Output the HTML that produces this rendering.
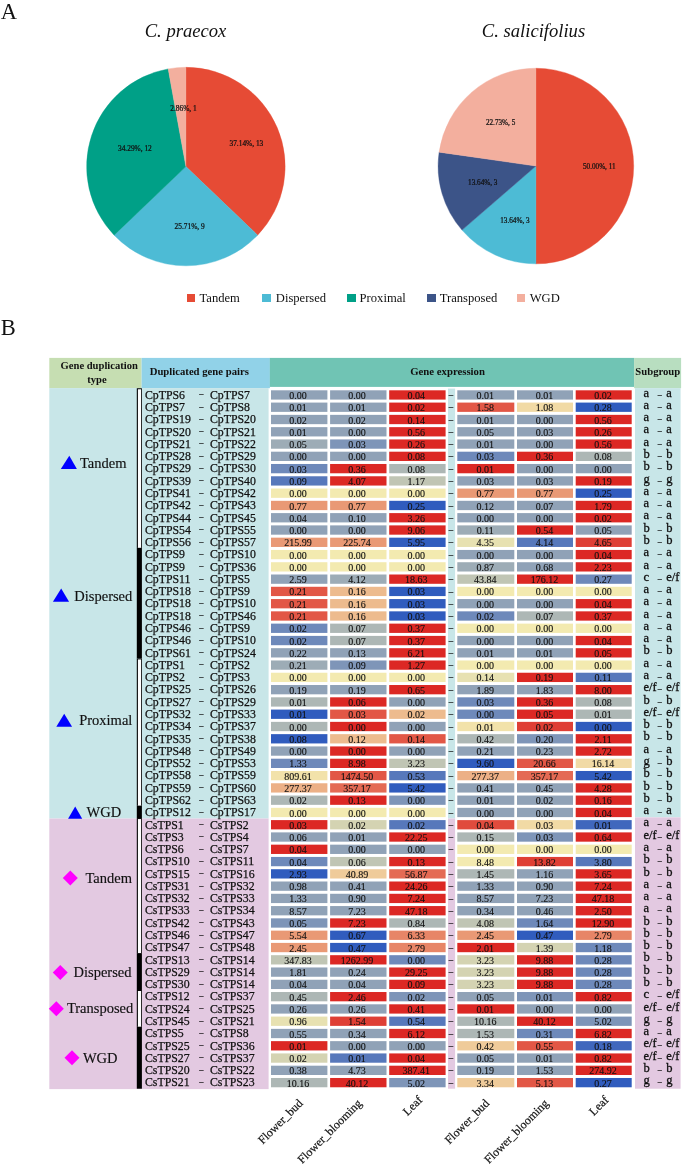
<!DOCTYPE html>
<html><head><meta charset="utf-8"><title>Gene duplication</title>
<style>
html,body{margin:0;padding:0;background:#fff;}
body{width:685px;height:1167px;position:relative;overflow:hidden;font-family:"Liberation Serif",serif;color:#111;}
.abs{position:absolute;}
.t{position:absolute;white-space:nowrap;line-height:1;}
.c{position:absolute;height:9.4px;font-size:10px;line-height:10px;text-align:center;color:#111;}
.g{position:absolute;font-size:11.8px;line-height:12px;white-space:nowrap;color:#111;}
.lab{position:absolute;font-size:14.3px;line-height:16px;white-space:nowrap;color:#111;}
.hd{position:absolute;font-weight:bold;font-size:10.6px;line-height:12px;white-space:nowrap;color:#111;}
.ax{position:absolute;font-size:12.7px;line-height:14px;white-space:nowrap;transform-origin:100% 50%;transform:rotate(-45deg);text-align:right;}
.pl{font-size:7.4px;font-family:"Liberation Serif",serif;fill:#111;stroke:#111;stroke-width:0.22px;text-anchor:middle;dominant-baseline:central;}
</style></head><body>

<div class="t" style="left:0.7px;top:1.2px;font-size:22.5px;line-height:22px;">A</div>
<div class="t" style="left:0.7px;top:316.5px;font-size:22.5px;line-height:22px;">B</div>
<div class="t" style="left:85px;width:201px;top:21px;text-align:center;font-style:italic;font-size:18.6px;line-height:20px;">C. praecox</div>
<div class="t" style="left:433px;width:201px;top:21px;text-align:center;font-style:italic;font-size:18.6px;line-height:20px;">C. salicifolius</div>
<svg class="abs" style="left:0;top:0" width="685" height="320" viewBox="0 0 685 320">
<path d="M185.9,166.55 L185.90,67.30 A99.25,99.25 0 0 1 257.64,235.14 Z" fill="#E64B35" stroke="#E64B35" stroke-width="0.4"/>
<path d="M185.9,166.55 L257.64,235.14 A99.25,99.25 0 0 1 114.16,235.14 Z" fill="#4DBBD5" stroke="#4DBBD5" stroke-width="0.4"/>
<path d="M185.9,166.55 L114.16,235.14 A99.25,99.25 0 0 1 168.18,68.89 Z" fill="#00A087" stroke="#00A087" stroke-width="0.4"/>
<path d="M185.9,166.55 L168.18,68.89 A99.25,99.25 0 0 1 185.90,67.30 Z" fill="#F3AF9E" stroke="#F3AF9E" stroke-width="0.4"/>
<path d="M535.9,166.05 L535.90,68.25 A97.8,97.8 0 0 1 535.90,263.85 Z" fill="#E64B35" stroke="#E64B35" stroke-width="0.4"/>
<path d="M535.9,166.05 L535.90,263.85 A97.8,97.8 0 0 1 461.99,230.10 Z" fill="#4DBBD5" stroke="#4DBBD5" stroke-width="0.4"/>
<path d="M535.9,166.05 L461.99,230.10 A97.8,97.8 0 0 1 439.10,152.13 Z" fill="#3C5488" stroke="#3C5488" stroke-width="0.4"/>
<path d="M535.9,166.05 L439.10,152.13 A97.8,97.8 0 0 1 535.90,68.25 Z" fill="#F3AF9E" stroke="#F3AF9E" stroke-width="0.4"/>
<text class="pl" x="246.4" y="143.6" style="font-size:7.38px">37.14%, 13</text>
<text class="pl" x="189.6" y="226.4" style="font-size:7.38px">25.71%, 9</text>
<text class="pl" x="134.9" y="148.4" style="font-size:7.38px">34.29%, 12</text>
<text class="pl" x="183.5" y="108.1" style="font-size:7.38px">2.86%, 1</text>
<text class="pl" x="599.3" y="167.3" style="font-size:7.2px">50.00%, 11</text>
<text class="pl" x="514.9" y="220.6" style="font-size:7.2px">13.64%, 3</text>
<text class="pl" x="482.8" y="183.4" style="font-size:7.2px">13.64%, 3</text>
<text class="pl" x="500.6" y="122.5" style="font-size:7.2px">22.73%, 5</text>
</svg>
<div class="abs" style="left:186.8px;top:293.6px;width:8.4px;height:8.2px;background:#E64B35"></div>
<div class="t" style="left:199.5px;top:290.5px;font-size:12.6px;line-height:14px;">Tandem</div>
<div class="abs" style="left:262.3px;top:293.6px;width:8.4px;height:8.2px;background:#4DBBD5"></div>
<div class="t" style="left:275.8px;top:290.5px;font-size:12.6px;line-height:14px;">Dispersed</div>
<div class="abs" style="left:347.3px;top:293.6px;width:8.4px;height:8.2px;background:#00A087"></div>
<div class="t" style="left:359.6px;top:290.5px;font-size:12.6px;line-height:14px;">Proximal</div>
<div class="abs" style="left:427.3px;top:293.6px;width:8.4px;height:8.2px;background:#3C5488"></div>
<div class="t" style="left:439.7px;top:290.5px;font-size:12.6px;line-height:14px;">Transposed</div>
<div class="abs" style="left:517px;top:293.6px;width:8.4px;height:8.2px;background:#F3AF9E"></div>
<div class="t" style="left:529.7px;top:290.5px;font-size:12.6px;line-height:14px;">WGD</div>
<svg class="abs" style="left:0;top:0" width="685" height="1167" viewBox="0 0 685 1167" font-family="Liberation Serif, serif">
<rect x="49.30" y="357.90" width="92.30" height="30.30" fill="#C6DEB2" />
<rect x="141.60" y="357.90" width="128.30" height="30.30" fill="#91D2E8" />
<rect x="269.80" y="357.90" width="364.40" height="29.00" fill="#70C4B4" />
<rect x="634.10" y="357.90" width="47.00" height="30.30" fill="#B8DEC0" />
<rect x="49.30" y="388.10" width="219.30" height="430.46" fill="#C8E6E8" />
<rect x="49.30" y="818.56" width="219.30" height="270.56" fill="#E3C9E1" />
<rect x="448.00" y="388.60" width="7.10" height="429.96" fill="#C8E6E8" />
<rect x="448.00" y="818.56" width="7.10" height="270.16" fill="#E3C9E1" />
<rect x="635.00" y="388.10" width="45.60" height="429.26" fill="#C8E6E8" />
<rect x="635.00" y="817.36" width="45.60" height="271.36" fill="#E3C9E1" />
<text x="99.25" y="368.5" font-size="10.6" text-anchor="middle" font-weight="bold" fill="#111">Gene duplication</text>
<text x="96.9" y="382.9" font-size="10.6" text-anchor="middle" font-weight="bold" fill="#111">type</text>
<text x="149.7" y="375.0" font-size="10.7" font-weight="bold" fill="#111">Duplicated gene pairs</text>
<text x="410.2" y="375.2" font-size="10.75" font-weight="bold" fill="#111">Gene expression</text>
<text x="635.3" y="375.2" font-size="10.7" font-weight="bold" fill="#111">Subgroup</text>
<rect x="136.80" y="388.26" width="5.10" height="159.64" fill="#000" />
<rect x="137.90" y="389.26" width="3.20" height="158.64" fill="#fff" />
<rect x="136.80" y="547.90" width="5.10" height="110.52" fill="#000" />
<rect x="136.80" y="658.42" width="5.10" height="147.36" fill="#000" />
<rect x="137.90" y="659.42" width="3.20" height="146.36" fill="#fff" />
<rect x="136.80" y="805.78" width="5.10" height="12.28" fill="#000" />
<rect x="136.80" y="818.06" width="5.10" height="135.08" fill="#000" />
<rect x="137.90" y="819.06" width="3.20" height="134.08" fill="#fff" />
<rect x="136.80" y="953.14" width="5.10" height="36.84" fill="#000" />
<rect x="136.80" y="989.98" width="5.10" height="36.84" fill="#000" />
<rect x="137.90" y="990.98" width="3.20" height="35.84" fill="#fff" />
<rect x="136.80" y="1026.82" width="5.10" height="61.90" fill="#000" />
<polygon points="69.3,455.8 76.9,468.9 60.8,468.9" fill="#0000FF"/>
<text x="80" y="467.6" font-size="14.5" fill="#111" stroke="#111" stroke-width="0.15">Tandem</text>
<polygon points="61.2,588.5 69.05,601.65 52.9,601.65" fill="#0000FF"/>
<text x="74.3" y="601" font-size="14.5" fill="#111" stroke="#111" stroke-width="0.15">Dispersed</text>
<polygon points="64.2,713.8 72.1,726.7 56.3,726.7" fill="#0000FF"/>
<text x="79.2" y="724.7" font-size="14.5" fill="#111" stroke="#111" stroke-width="0.15">Proximal</text>
<polygon points="75.2,806.6 82.2,818.65 68.1,818.65" fill="#0000FF"/>
<text x="86.5" y="817.1" font-size="14.5" fill="#111" stroke="#111" stroke-width="0.15">WGD</text>
<polygon points="70.3,870.4 77.8,877.9 70.3,885.4 62.8,877.9" fill="#FF00FF"/>
<text x="85.5" y="882.6" font-size="14.5" fill="#111" stroke="#111" stroke-width="0.15">Tandem</text>
<polygon points="60.25,964.9 67.75,972.4 60.25,979.9 52.75,972.4" fill="#FF00FF"/>
<text x="73.5" y="976.6" font-size="14.5" fill="#111" stroke="#111" stroke-width="0.15">Dispersed</text>
<polygon points="56.3,1001.15 63.8,1008.65 56.3,1016.15 48.8,1008.65" fill="#FF00FF"/>
<text x="66.9" y="1013.4" font-size="14.5" fill="#111" stroke="#111" stroke-width="0.15">Transposed</text>
<polygon points="72,1050.15 79.5,1057.65 72,1065.15 64.5,1057.65" fill="#FF00FF"/>
<text x="82.9" y="1062.7" font-size="14.5" fill="#111" stroke="#111" stroke-width="0.15">WGD</text>
<text x="145" y="398.70" font-size="11.8" fill="#111" stroke="#111" stroke-width="0.25">CpTPS6</text>
<text x="199.2" y="396.30" font-size="8.4" fill="#111" stroke="#111" stroke-width="0.3">–</text>
<text x="210" y="398.70" font-size="11.8" fill="#111" stroke="#111" stroke-width="0.25">CpTPS7</text>
<rect x="271.00" y="390.30" width="56.40" height="9.30" fill="#90a2b7" />
<text x="298.00" y="399.00" font-size="10" fill="#111" text-anchor="middle" stroke="#111" stroke-width="0.12">0.00</text>
<rect x="330.10" y="390.30" width="56.40" height="9.30" fill="#90a2b7" />
<text x="357.10" y="399.00" font-size="10" fill="#111" text-anchor="middle" stroke="#111" stroke-width="0.12">0.00</text>
<rect x="389.20" y="390.30" width="56.40" height="9.30" fill="#dc2824" />
<text x="416.20" y="399.00" font-size="10" fill="#111" text-anchor="middle" stroke="#111" stroke-width="0.12">0.04</text>
<rect x="457.30" y="390.30" width="57.00" height="9.30" fill="#90a2b7" />
<text x="485.20" y="399.00" font-size="10" fill="#111" text-anchor="middle" stroke="#111" stroke-width="0.12">0.01</text>
<rect x="517.00" y="390.30" width="56.00" height="9.30" fill="#90a2b7" />
<text x="544.40" y="399.00" font-size="10" fill="#111" text-anchor="middle" stroke="#111" stroke-width="0.12">0.01</text>
<rect x="575.70" y="390.30" width="56.00" height="9.30" fill="#dc2824" />
<text x="603.10" y="399.00" font-size="10" fill="#111" text-anchor="middle" stroke="#111" stroke-width="0.12">0.02</text>
<text x="448.8" y="397.05" font-size="8.8" fill="#111" stroke="#111" stroke-width="0.3">–</text>
<text x="643.5" y="396.60" font-size="12.5" fill="#111" stroke="#111" stroke-width="0.3">a</text>
<text x="657.8" y="396.60" font-size="8" fill="#111" stroke="#111" stroke-width="0.3">–</text>
<text x="666.2" y="396.60" font-size="12.5" fill="#111" stroke="#111" stroke-width="0.3">a</text>
<text x="145" y="410.98" font-size="11.8" fill="#111" stroke="#111" stroke-width="0.25">CpTPS7</text>
<text x="199.2" y="408.58" font-size="8.4" fill="#111" stroke="#111" stroke-width="0.3">–</text>
<text x="210" y="410.98" font-size="11.8" fill="#111" stroke="#111" stroke-width="0.25">CpTPS8</text>
<rect x="271.00" y="402.58" width="56.40" height="9.30" fill="#90a2b7" />
<text x="298.00" y="411.28" font-size="10" fill="#111" text-anchor="middle" stroke="#111" stroke-width="0.12">0.01</text>
<rect x="330.10" y="402.58" width="56.40" height="9.30" fill="#90a2b7" />
<text x="357.10" y="411.28" font-size="10" fill="#111" text-anchor="middle" stroke="#111" stroke-width="0.12">0.01</text>
<rect x="389.20" y="402.58" width="56.40" height="9.30" fill="#dc2824" />
<text x="416.20" y="411.28" font-size="10" fill="#111" text-anchor="middle" stroke="#111" stroke-width="0.12">0.02</text>
<rect x="457.30" y="402.58" width="57.00" height="9.30" fill="#e25746" />
<text x="485.20" y="411.28" font-size="10" fill="#111" text-anchor="middle" stroke="#111" stroke-width="0.12">1.58</text>
<rect x="517.00" y="402.58" width="56.00" height="9.30" fill="#f1daa5" />
<text x="544.40" y="411.28" font-size="10" fill="#111" text-anchor="middle" stroke="#111" stroke-width="0.12">1.08</text>
<rect x="575.70" y="402.58" width="56.00" height="9.30" fill="#305cbe" />
<text x="603.10" y="411.28" font-size="10" fill="#111" text-anchor="middle" stroke="#111" stroke-width="0.12">0.28</text>
<text x="448.8" y="409.33" font-size="8.8" fill="#111" stroke="#111" stroke-width="0.3">–</text>
<text x="643.5" y="408.88" font-size="12.5" fill="#111" stroke="#111" stroke-width="0.3">a</text>
<text x="657.8" y="408.88" font-size="8" fill="#111" stroke="#111" stroke-width="0.3">–</text>
<text x="666.2" y="408.88" font-size="12.5" fill="#111" stroke="#111" stroke-width="0.3">a</text>
<text x="145" y="423.26" font-size="11.8" fill="#111" stroke="#111" stroke-width="0.25">CpTPS19</text>
<text x="199.2" y="420.86" font-size="8.4" fill="#111" stroke="#111" stroke-width="0.3">–</text>
<text x="210" y="423.26" font-size="11.8" fill="#111" stroke="#111" stroke-width="0.25">CpTPS20</text>
<rect x="271.00" y="414.86" width="56.40" height="9.30" fill="#90a2b7" />
<text x="298.00" y="423.56" font-size="10" fill="#111" text-anchor="middle" stroke="#111" stroke-width="0.12">0.02</text>
<rect x="330.10" y="414.86" width="56.40" height="9.30" fill="#90a2b7" />
<text x="357.10" y="423.56" font-size="10" fill="#111" text-anchor="middle" stroke="#111" stroke-width="0.12">0.02</text>
<rect x="389.20" y="414.86" width="56.40" height="9.30" fill="#dc2824" />
<text x="416.20" y="423.56" font-size="10" fill="#111" text-anchor="middle" stroke="#111" stroke-width="0.12">0.14</text>
<rect x="457.30" y="414.86" width="57.00" height="9.30" fill="#90a2b7" />
<text x="485.20" y="423.56" font-size="10" fill="#111" text-anchor="middle" stroke="#111" stroke-width="0.12">0.01</text>
<rect x="517.00" y="414.86" width="56.00" height="9.30" fill="#90a2b7" />
<text x="544.40" y="423.56" font-size="10" fill="#111" text-anchor="middle" stroke="#111" stroke-width="0.12">0.00</text>
<rect x="575.70" y="414.86" width="56.00" height="9.30" fill="#dc2824" />
<text x="603.10" y="423.56" font-size="10" fill="#111" text-anchor="middle" stroke="#111" stroke-width="0.12">0.56</text>
<text x="448.8" y="421.61" font-size="8.8" fill="#111" stroke="#111" stroke-width="0.3">–</text>
<text x="643.5" y="421.16" font-size="12.5" fill="#111" stroke="#111" stroke-width="0.3">a</text>
<text x="657.8" y="421.16" font-size="8" fill="#111" stroke="#111" stroke-width="0.3">–</text>
<text x="666.2" y="421.16" font-size="12.5" fill="#111" stroke="#111" stroke-width="0.3">a</text>
<text x="145" y="435.54" font-size="11.8" fill="#111" stroke="#111" stroke-width="0.25">CpTPS20</text>
<text x="199.2" y="433.14" font-size="8.4" fill="#111" stroke="#111" stroke-width="0.3">–</text>
<text x="210" y="435.54" font-size="11.8" fill="#111" stroke="#111" stroke-width="0.25">CpTPS21</text>
<rect x="271.00" y="427.14" width="56.40" height="9.30" fill="#90a2b7" />
<text x="298.00" y="435.84" font-size="10" fill="#111" text-anchor="middle" stroke="#111" stroke-width="0.12">0.01</text>
<rect x="330.10" y="427.14" width="56.40" height="9.30" fill="#90a2b7" />
<text x="357.10" y="435.84" font-size="10" fill="#111" text-anchor="middle" stroke="#111" stroke-width="0.12">0.00</text>
<rect x="389.20" y="427.14" width="56.40" height="9.30" fill="#dc2824" />
<text x="416.20" y="435.84" font-size="10" fill="#111" text-anchor="middle" stroke="#111" stroke-width="0.12">0.56</text>
<rect x="457.30" y="427.14" width="57.00" height="9.30" fill="#90a2b7" />
<text x="485.20" y="435.84" font-size="10" fill="#111" text-anchor="middle" stroke="#111" stroke-width="0.12">0.05</text>
<rect x="517.00" y="427.14" width="56.00" height="9.30" fill="#90a2b7" />
<text x="544.40" y="435.84" font-size="10" fill="#111" text-anchor="middle" stroke="#111" stroke-width="0.12">0.03</text>
<rect x="575.70" y="427.14" width="56.00" height="9.30" fill="#dc2824" />
<text x="603.10" y="435.84" font-size="10" fill="#111" text-anchor="middle" stroke="#111" stroke-width="0.12">0.26</text>
<text x="448.8" y="433.89" font-size="8.8" fill="#111" stroke="#111" stroke-width="0.3">–</text>
<text x="643.5" y="433.44" font-size="12.5" fill="#111" stroke="#111" stroke-width="0.3">a</text>
<text x="657.8" y="433.44" font-size="8" fill="#111" stroke="#111" stroke-width="0.3">–</text>
<text x="666.2" y="433.44" font-size="12.5" fill="#111" stroke="#111" stroke-width="0.3">a</text>
<text x="145" y="447.82" font-size="11.8" fill="#111" stroke="#111" stroke-width="0.25">CpTPS21</text>
<text x="199.2" y="445.42" font-size="8.4" fill="#111" stroke="#111" stroke-width="0.3">–</text>
<text x="210" y="447.82" font-size="11.8" fill="#111" stroke="#111" stroke-width="0.25">CpTPS22</text>
<rect x="271.00" y="439.42" width="56.40" height="9.30" fill="#9dacb6" />
<text x="298.00" y="448.12" font-size="10" fill="#111" text-anchor="middle" stroke="#111" stroke-width="0.12">0.05</text>
<rect x="330.10" y="439.42" width="56.40" height="9.30" fill="#7e95b8" />
<text x="357.10" y="448.12" font-size="10" fill="#111" text-anchor="middle" stroke="#111" stroke-width="0.12">0.03</text>
<rect x="389.20" y="439.42" width="56.40" height="9.30" fill="#dc2824" />
<text x="416.20" y="448.12" font-size="10" fill="#111" text-anchor="middle" stroke="#111" stroke-width="0.12">0.26</text>
<rect x="457.30" y="439.42" width="57.00" height="9.30" fill="#90a2b7" />
<text x="485.20" y="448.12" font-size="10" fill="#111" text-anchor="middle" stroke="#111" stroke-width="0.12">0.01</text>
<rect x="517.00" y="439.42" width="56.00" height="9.30" fill="#90a2b7" />
<text x="544.40" y="448.12" font-size="10" fill="#111" text-anchor="middle" stroke="#111" stroke-width="0.12">0.00</text>
<rect x="575.70" y="439.42" width="56.00" height="9.30" fill="#dc2824" />
<text x="603.10" y="448.12" font-size="10" fill="#111" text-anchor="middle" stroke="#111" stroke-width="0.12">0.56</text>
<text x="448.8" y="446.17" font-size="8.8" fill="#111" stroke="#111" stroke-width="0.3">–</text>
<text x="643.5" y="445.72" font-size="12.5" fill="#111" stroke="#111" stroke-width="0.3">a</text>
<text x="657.8" y="445.72" font-size="8" fill="#111" stroke="#111" stroke-width="0.3">–</text>
<text x="666.2" y="445.72" font-size="12.5" fill="#111" stroke="#111" stroke-width="0.3">a</text>
<text x="145" y="460.10" font-size="11.8" fill="#111" stroke="#111" stroke-width="0.25">CpTPS28</text>
<text x="199.2" y="457.70" font-size="8.4" fill="#111" stroke="#111" stroke-width="0.3">–</text>
<text x="210" y="460.10" font-size="11.8" fill="#111" stroke="#111" stroke-width="0.25">CpTPS29</text>
<rect x="271.00" y="451.70" width="56.40" height="9.30" fill="#90a2b7" />
<text x="298.00" y="460.40" font-size="10" fill="#111" text-anchor="middle" stroke="#111" stroke-width="0.12">0.00</text>
<rect x="330.10" y="451.70" width="56.40" height="9.30" fill="#90a2b7" />
<text x="357.10" y="460.40" font-size="10" fill="#111" text-anchor="middle" stroke="#111" stroke-width="0.12">0.00</text>
<rect x="389.20" y="451.70" width="56.40" height="9.30" fill="#dc2824" />
<text x="416.20" y="460.40" font-size="10" fill="#111" text-anchor="middle" stroke="#111" stroke-width="0.12">0.08</text>
<rect x="457.30" y="451.70" width="57.00" height="9.30" fill="#6e89ba" />
<text x="485.20" y="460.40" font-size="10" fill="#111" text-anchor="middle" stroke="#111" stroke-width="0.12">0.03</text>
<rect x="517.00" y="451.70" width="56.00" height="9.30" fill="#dc2824" />
<text x="544.40" y="460.40" font-size="10" fill="#111" text-anchor="middle" stroke="#111" stroke-width="0.12">0.36</text>
<rect x="575.70" y="451.70" width="56.00" height="9.30" fill="#adb7b5" />
<text x="603.10" y="460.40" font-size="10" fill="#111" text-anchor="middle" stroke="#111" stroke-width="0.12">0.08</text>
<text x="448.8" y="458.45" font-size="8.8" fill="#111" stroke="#111" stroke-width="0.3">–</text>
<text x="643.5" y="458.00" font-size="12.5" fill="#111" stroke="#111" stroke-width="0.3">b</text>
<text x="657.8" y="458.00" font-size="8" fill="#111" stroke="#111" stroke-width="0.3">–</text>
<text x="666.2" y="458.00" font-size="12.5" fill="#111" stroke="#111" stroke-width="0.3">b</text>
<text x="145" y="472.38" font-size="11.8" fill="#111" stroke="#111" stroke-width="0.25">CpTPS29</text>
<text x="199.2" y="469.98" font-size="8.4" fill="#111" stroke="#111" stroke-width="0.3">–</text>
<text x="210" y="472.38" font-size="11.8" fill="#111" stroke="#111" stroke-width="0.25">CpTPS30</text>
<rect x="271.00" y="463.98" width="56.40" height="9.30" fill="#6e89ba" />
<text x="298.00" y="472.68" font-size="10" fill="#111" text-anchor="middle" stroke="#111" stroke-width="0.12">0.03</text>
<rect x="330.10" y="463.98" width="56.40" height="9.30" fill="#dc2824" />
<text x="357.10" y="472.68" font-size="10" fill="#111" text-anchor="middle" stroke="#111" stroke-width="0.12">0.36</text>
<rect x="389.20" y="463.98" width="56.40" height="9.30" fill="#adb7b5" />
<text x="416.20" y="472.68" font-size="10" fill="#111" text-anchor="middle" stroke="#111" stroke-width="0.12">0.08</text>
<rect x="457.30" y="463.98" width="57.00" height="9.30" fill="#dc2824" />
<text x="485.20" y="472.68" font-size="10" fill="#111" text-anchor="middle" stroke="#111" stroke-width="0.12">0.01</text>
<rect x="517.00" y="463.98" width="56.00" height="9.30" fill="#90a2b7" />
<text x="544.40" y="472.68" font-size="10" fill="#111" text-anchor="middle" stroke="#111" stroke-width="0.12">0.00</text>
<rect x="575.70" y="463.98" width="56.00" height="9.30" fill="#90a2b7" />
<text x="603.10" y="472.68" font-size="10" fill="#111" text-anchor="middle" stroke="#111" stroke-width="0.12">0.00</text>
<text x="448.8" y="470.73" font-size="8.8" fill="#111" stroke="#111" stroke-width="0.3">–</text>
<text x="643.5" y="470.28" font-size="12.5" fill="#111" stroke="#111" stroke-width="0.3">b</text>
<text x="657.8" y="470.28" font-size="8" fill="#111" stroke="#111" stroke-width="0.3">–</text>
<text x="666.2" y="470.28" font-size="12.5" fill="#111" stroke="#111" stroke-width="0.3">b</text>
<text x="145" y="484.66" font-size="11.8" fill="#111" stroke="#111" stroke-width="0.25">CpTPS39</text>
<text x="199.2" y="482.26" font-size="8.4" fill="#111" stroke="#111" stroke-width="0.3">–</text>
<text x="210" y="484.66" font-size="11.8" fill="#111" stroke="#111" stroke-width="0.25">CpTPS40</text>
<rect x="271.00" y="476.26" width="56.40" height="9.30" fill="#5778bb" />
<text x="298.00" y="484.96" font-size="10" fill="#111" text-anchor="middle" stroke="#111" stroke-width="0.12">0.09</text>
<rect x="330.10" y="476.26" width="56.40" height="9.30" fill="#dc2824" />
<text x="357.10" y="484.96" font-size="10" fill="#111" text-anchor="middle" stroke="#111" stroke-width="0.12">4.07</text>
<rect x="389.20" y="476.26" width="56.40" height="9.30" fill="#c0c5b4" />
<text x="416.20" y="484.96" font-size="10" fill="#111" text-anchor="middle" stroke="#111" stroke-width="0.12">1.17</text>
<rect x="457.30" y="476.26" width="57.00" height="9.30" fill="#90a2b7" />
<text x="485.20" y="484.96" font-size="10" fill="#111" text-anchor="middle" stroke="#111" stroke-width="0.12">0.03</text>
<rect x="517.00" y="476.26" width="56.00" height="9.30" fill="#90a2b7" />
<text x="544.40" y="484.96" font-size="10" fill="#111" text-anchor="middle" stroke="#111" stroke-width="0.12">0.03</text>
<rect x="575.70" y="476.26" width="56.00" height="9.30" fill="#dc2824" />
<text x="603.10" y="484.96" font-size="10" fill="#111" text-anchor="middle" stroke="#111" stroke-width="0.12">0.19</text>
<text x="448.8" y="483.01" font-size="8.8" fill="#111" stroke="#111" stroke-width="0.3">–</text>
<text x="643.5" y="482.56" font-size="12.5" fill="#111" stroke="#111" stroke-width="0.3">g</text>
<text x="657.8" y="482.56" font-size="8" fill="#111" stroke="#111" stroke-width="0.3">–</text>
<text x="666.2" y="482.56" font-size="12.5" fill="#111" stroke="#111" stroke-width="0.3">g</text>
<text x="145" y="496.94" font-size="11.8" fill="#111" stroke="#111" stroke-width="0.25">CpTPS41</text>
<text x="199.2" y="494.54" font-size="8.4" fill="#111" stroke="#111" stroke-width="0.3">–</text>
<text x="210" y="496.94" font-size="11.8" fill="#111" stroke="#111" stroke-width="0.25">CpTPS42</text>
<rect x="271.00" y="488.54" width="56.40" height="9.30" fill="#f3eab0" />
<text x="298.00" y="497.24" font-size="10" fill="#111" text-anchor="middle" stroke="#111" stroke-width="0.12">0.00</text>
<rect x="330.10" y="488.54" width="56.40" height="9.30" fill="#f3eab0" />
<text x="357.10" y="497.24" font-size="10" fill="#111" text-anchor="middle" stroke="#111" stroke-width="0.12">0.00</text>
<rect x="389.20" y="488.54" width="56.40" height="9.30" fill="#f3eab0" />
<text x="416.20" y="497.24" font-size="10" fill="#111" text-anchor="middle" stroke="#111" stroke-width="0.12">0.00</text>
<rect x="457.30" y="488.54" width="57.00" height="9.30" fill="#e99975" />
<text x="485.20" y="497.24" font-size="10" fill="#111" text-anchor="middle" stroke="#111" stroke-width="0.12">0.77</text>
<rect x="517.00" y="488.54" width="56.00" height="9.30" fill="#e99975" />
<text x="544.40" y="497.24" font-size="10" fill="#111" text-anchor="middle" stroke="#111" stroke-width="0.12">0.77</text>
<rect x="575.70" y="488.54" width="56.00" height="9.30" fill="#305cbe" />
<text x="603.10" y="497.24" font-size="10" fill="#111" text-anchor="middle" stroke="#111" stroke-width="0.12">0.25</text>
<text x="448.8" y="495.29" font-size="8.8" fill="#111" stroke="#111" stroke-width="0.3">–</text>
<text x="643.5" y="494.84" font-size="12.5" fill="#111" stroke="#111" stroke-width="0.3">a</text>
<text x="657.8" y="494.84" font-size="8" fill="#111" stroke="#111" stroke-width="0.3">–</text>
<text x="666.2" y="494.84" font-size="12.5" fill="#111" stroke="#111" stroke-width="0.3">a</text>
<text x="145" y="509.22" font-size="11.8" fill="#111" stroke="#111" stroke-width="0.25">CpTPS42</text>
<text x="199.2" y="506.82" font-size="8.4" fill="#111" stroke="#111" stroke-width="0.3">–</text>
<text x="210" y="509.22" font-size="11.8" fill="#111" stroke="#111" stroke-width="0.25">CpTPS43</text>
<rect x="271.00" y="500.82" width="56.40" height="9.30" fill="#e99975" />
<text x="298.00" y="509.52" font-size="10" fill="#111" text-anchor="middle" stroke="#111" stroke-width="0.12">0.77</text>
<rect x="330.10" y="500.82" width="56.40" height="9.30" fill="#e99975" />
<text x="357.10" y="509.52" font-size="10" fill="#111" text-anchor="middle" stroke="#111" stroke-width="0.12">0.77</text>
<rect x="389.20" y="500.82" width="56.40" height="9.30" fill="#305cbe" />
<text x="416.20" y="509.52" font-size="10" fill="#111" text-anchor="middle" stroke="#111" stroke-width="0.12">0.25</text>
<rect x="457.30" y="500.82" width="57.00" height="9.30" fill="#90a2b7" />
<text x="485.20" y="509.52" font-size="10" fill="#111" text-anchor="middle" stroke="#111" stroke-width="0.12">0.12</text>
<rect x="517.00" y="500.82" width="56.00" height="9.30" fill="#90a2b7" />
<text x="544.40" y="509.52" font-size="10" fill="#111" text-anchor="middle" stroke="#111" stroke-width="0.12">0.07</text>
<rect x="575.70" y="500.82" width="56.00" height="9.30" fill="#dc2824" />
<text x="603.10" y="509.52" font-size="10" fill="#111" text-anchor="middle" stroke="#111" stroke-width="0.12">1.79</text>
<text x="448.8" y="507.57" font-size="8.8" fill="#111" stroke="#111" stroke-width="0.3">–</text>
<text x="643.5" y="507.12" font-size="12.5" fill="#111" stroke="#111" stroke-width="0.3">a</text>
<text x="657.8" y="507.12" font-size="8" fill="#111" stroke="#111" stroke-width="0.3">–</text>
<text x="666.2" y="507.12" font-size="12.5" fill="#111" stroke="#111" stroke-width="0.3">a</text>
<text x="145" y="521.50" font-size="11.8" fill="#111" stroke="#111" stroke-width="0.25">CpTPS44</text>
<text x="199.2" y="519.10" font-size="8.4" fill="#111" stroke="#111" stroke-width="0.3">–</text>
<text x="210" y="521.50" font-size="11.8" fill="#111" stroke="#111" stroke-width="0.25">CpTPS45</text>
<rect x="271.00" y="513.10" width="56.40" height="9.30" fill="#90a2b7" />
<text x="298.00" y="521.80" font-size="10" fill="#111" text-anchor="middle" stroke="#111" stroke-width="0.12">0.04</text>
<rect x="330.10" y="513.10" width="56.40" height="9.30" fill="#90a2b7" />
<text x="357.10" y="521.80" font-size="10" fill="#111" text-anchor="middle" stroke="#111" stroke-width="0.12">0.10</text>
<rect x="389.20" y="513.10" width="56.40" height="9.30" fill="#dc2824" />
<text x="416.20" y="521.80" font-size="10" fill="#111" text-anchor="middle" stroke="#111" stroke-width="0.12">3.26</text>
<rect x="457.30" y="513.10" width="57.00" height="9.30" fill="#90a2b7" />
<text x="485.20" y="521.80" font-size="10" fill="#111" text-anchor="middle" stroke="#111" stroke-width="0.12">0.00</text>
<rect x="517.00" y="513.10" width="56.00" height="9.30" fill="#90a2b7" />
<text x="544.40" y="521.80" font-size="10" fill="#111" text-anchor="middle" stroke="#111" stroke-width="0.12">0.00</text>
<rect x="575.70" y="513.10" width="56.00" height="9.30" fill="#dc2824" />
<text x="603.10" y="521.80" font-size="10" fill="#111" text-anchor="middle" stroke="#111" stroke-width="0.12">0.02</text>
<text x="448.8" y="519.85" font-size="8.8" fill="#111" stroke="#111" stroke-width="0.3">–</text>
<text x="643.5" y="519.40" font-size="12.5" fill="#111" stroke="#111" stroke-width="0.3">a</text>
<text x="657.8" y="519.40" font-size="8" fill="#111" stroke="#111" stroke-width="0.3">–</text>
<text x="666.2" y="519.40" font-size="12.5" fill="#111" stroke="#111" stroke-width="0.3">a</text>
<text x="145" y="533.78" font-size="11.8" fill="#111" stroke="#111" stroke-width="0.25">CpTPS54</text>
<text x="199.2" y="531.38" font-size="8.4" fill="#111" stroke="#111" stroke-width="0.3">–</text>
<text x="210" y="533.78" font-size="11.8" fill="#111" stroke="#111" stroke-width="0.25">CpTPS55</text>
<rect x="271.00" y="525.38" width="56.40" height="9.30" fill="#90a2b7" />
<text x="298.00" y="534.08" font-size="10" fill="#111" text-anchor="middle" stroke="#111" stroke-width="0.12">0.00</text>
<rect x="330.10" y="525.38" width="56.40" height="9.30" fill="#90a2b7" />
<text x="357.10" y="534.08" font-size="10" fill="#111" text-anchor="middle" stroke="#111" stroke-width="0.12">0.00</text>
<rect x="389.20" y="525.38" width="56.40" height="9.30" fill="#dc2824" />
<text x="416.20" y="534.08" font-size="10" fill="#111" text-anchor="middle" stroke="#111" stroke-width="0.12">9.06</text>
<rect x="457.30" y="525.38" width="57.00" height="9.30" fill="#9dacb6" />
<text x="485.20" y="534.08" font-size="10" fill="#111" text-anchor="middle" stroke="#111" stroke-width="0.12">0.11</text>
<rect x="517.00" y="525.38" width="56.00" height="9.30" fill="#dc2824" />
<text x="544.40" y="534.08" font-size="10" fill="#111" text-anchor="middle" stroke="#111" stroke-width="0.12">0.54</text>
<rect x="575.70" y="525.38" width="56.00" height="9.30" fill="#90a2b7" />
<text x="603.10" y="534.08" font-size="10" fill="#111" text-anchor="middle" stroke="#111" stroke-width="0.12">0.05</text>
<text x="448.8" y="532.13" font-size="8.8" fill="#111" stroke="#111" stroke-width="0.3">–</text>
<text x="643.5" y="531.68" font-size="12.5" fill="#111" stroke="#111" stroke-width="0.3">b</text>
<text x="657.8" y="531.68" font-size="8" fill="#111" stroke="#111" stroke-width="0.3">–</text>
<text x="666.2" y="531.68" font-size="12.5" fill="#111" stroke="#111" stroke-width="0.3">b</text>
<text x="145" y="546.06" font-size="11.8" fill="#111" stroke="#111" stroke-width="0.25">CpTPS56</text>
<text x="199.2" y="543.66" font-size="8.4" fill="#111" stroke="#111" stroke-width="0.3">–</text>
<text x="210" y="546.06" font-size="11.8" fill="#111" stroke="#111" stroke-width="0.25">CpTPS57</text>
<rect x="271.00" y="537.66" width="56.40" height="9.30" fill="#e99975" />
<text x="298.00" y="546.36" font-size="10" fill="#111" text-anchor="middle" stroke="#111" stroke-width="0.12">215.99</text>
<rect x="330.10" y="537.66" width="56.40" height="9.30" fill="#e99975" />
<text x="357.10" y="546.36" font-size="10" fill="#111" text-anchor="middle" stroke="#111" stroke-width="0.12">225.74</text>
<rect x="389.20" y="537.66" width="56.40" height="9.30" fill="#305cbe" />
<text x="416.20" y="546.36" font-size="10" fill="#111" text-anchor="middle" stroke="#111" stroke-width="0.12">5.95</text>
<rect x="457.30" y="537.66" width="57.00" height="9.30" fill="#e7e1b1" />
<text x="485.20" y="546.36" font-size="10" fill="#111" text-anchor="middle" stroke="#111" stroke-width="0.12">4.35</text>
<rect x="517.00" y="537.66" width="56.00" height="9.30" fill="#5778bb" />
<text x="544.40" y="546.36" font-size="10" fill="#111" text-anchor="middle" stroke="#111" stroke-width="0.12">4.14</text>
<rect x="575.70" y="537.66" width="56.00" height="9.30" fill="#df3f35" />
<text x="603.10" y="546.36" font-size="10" fill="#111" text-anchor="middle" stroke="#111" stroke-width="0.12">4.65</text>
<text x="448.8" y="544.41" font-size="8.8" fill="#111" stroke="#111" stroke-width="0.3">–</text>
<text x="643.5" y="543.96" font-size="12.5" fill="#111" stroke="#111" stroke-width="0.3">b</text>
<text x="657.8" y="543.96" font-size="8" fill="#111" stroke="#111" stroke-width="0.3">–</text>
<text x="666.2" y="543.96" font-size="12.5" fill="#111" stroke="#111" stroke-width="0.3">b</text>
<text x="145" y="558.34" font-size="11.8" fill="#111" stroke="#111" stroke-width="0.25">CpTPS9</text>
<text x="199.2" y="555.94" font-size="8.4" fill="#111" stroke="#111" stroke-width="0.3">–</text>
<text x="210" y="558.34" font-size="11.8" fill="#111" stroke="#111" stroke-width="0.25">CpTPS10</text>
<rect x="271.00" y="549.94" width="56.40" height="9.30" fill="#f3eab0" />
<text x="298.00" y="558.64" font-size="10" fill="#111" text-anchor="middle" stroke="#111" stroke-width="0.12">0.00</text>
<rect x="330.10" y="549.94" width="56.40" height="9.30" fill="#f3eab0" />
<text x="357.10" y="558.64" font-size="10" fill="#111" text-anchor="middle" stroke="#111" stroke-width="0.12">0.00</text>
<rect x="389.20" y="549.94" width="56.40" height="9.30" fill="#f3eab0" />
<text x="416.20" y="558.64" font-size="10" fill="#111" text-anchor="middle" stroke="#111" stroke-width="0.12">0.00</text>
<rect x="457.30" y="549.94" width="57.00" height="9.30" fill="#90a2b7" />
<text x="485.20" y="558.64" font-size="10" fill="#111" text-anchor="middle" stroke="#111" stroke-width="0.12">0.00</text>
<rect x="517.00" y="549.94" width="56.00" height="9.30" fill="#90a2b7" />
<text x="544.40" y="558.64" font-size="10" fill="#111" text-anchor="middle" stroke="#111" stroke-width="0.12">0.00</text>
<rect x="575.70" y="549.94" width="56.00" height="9.30" fill="#dc2824" />
<text x="603.10" y="558.64" font-size="10" fill="#111" text-anchor="middle" stroke="#111" stroke-width="0.12">0.04</text>
<text x="448.8" y="556.69" font-size="8.8" fill="#111" stroke="#111" stroke-width="0.3">–</text>
<text x="643.5" y="556.24" font-size="12.5" fill="#111" stroke="#111" stroke-width="0.3">a</text>
<text x="657.8" y="556.24" font-size="8" fill="#111" stroke="#111" stroke-width="0.3">–</text>
<text x="666.2" y="556.24" font-size="12.5" fill="#111" stroke="#111" stroke-width="0.3">a</text>
<text x="145" y="570.62" font-size="11.8" fill="#111" stroke="#111" stroke-width="0.25">CpTPS9</text>
<text x="199.2" y="568.22" font-size="8.4" fill="#111" stroke="#111" stroke-width="0.3">–</text>
<text x="210" y="570.62" font-size="11.8" fill="#111" stroke="#111" stroke-width="0.25">CpTPS36</text>
<rect x="271.00" y="562.22" width="56.40" height="9.30" fill="#f3eab0" />
<text x="298.00" y="570.92" font-size="10" fill="#111" text-anchor="middle" stroke="#111" stroke-width="0.12">0.00</text>
<rect x="330.10" y="562.22" width="56.40" height="9.30" fill="#f3eab0" />
<text x="357.10" y="570.92" font-size="10" fill="#111" text-anchor="middle" stroke="#111" stroke-width="0.12">0.00</text>
<rect x="389.20" y="562.22" width="56.40" height="9.30" fill="#f3eab0" />
<text x="416.20" y="570.92" font-size="10" fill="#111" text-anchor="middle" stroke="#111" stroke-width="0.12">0.00</text>
<rect x="457.30" y="562.22" width="57.00" height="9.30" fill="#9dacb6" />
<text x="485.20" y="570.92" font-size="10" fill="#111" text-anchor="middle" stroke="#111" stroke-width="0.12">0.87</text>
<rect x="517.00" y="562.22" width="56.00" height="9.30" fill="#90a2b7" />
<text x="544.40" y="570.92" font-size="10" fill="#111" text-anchor="middle" stroke="#111" stroke-width="0.12">0.68</text>
<rect x="575.70" y="562.22" width="56.00" height="9.30" fill="#dc2824" />
<text x="603.10" y="570.92" font-size="10" fill="#111" text-anchor="middle" stroke="#111" stroke-width="0.12">2.23</text>
<text x="448.8" y="568.97" font-size="8.8" fill="#111" stroke="#111" stroke-width="0.3">–</text>
<text x="643.5" y="568.52" font-size="12.5" fill="#111" stroke="#111" stroke-width="0.3">a</text>
<text x="657.8" y="568.52" font-size="8" fill="#111" stroke="#111" stroke-width="0.3">–</text>
<text x="666.2" y="568.52" font-size="12.5" fill="#111" stroke="#111" stroke-width="0.3">a</text>
<text x="145" y="582.90" font-size="11.8" fill="#111" stroke="#111" stroke-width="0.25">CpTPS11</text>
<text x="199.2" y="580.50" font-size="8.4" fill="#111" stroke="#111" stroke-width="0.3">–</text>
<text x="210" y="582.90" font-size="11.8" fill="#111" stroke="#111" stroke-width="0.25">CpTPS5</text>
<rect x="271.00" y="574.50" width="56.40" height="9.30" fill="#90a2b7" />
<text x="298.00" y="583.20" font-size="10" fill="#111" text-anchor="middle" stroke="#111" stroke-width="0.12">2.59</text>
<rect x="330.10" y="574.50" width="56.40" height="9.30" fill="#9dacb6" />
<text x="357.10" y="583.20" font-size="10" fill="#111" text-anchor="middle" stroke="#111" stroke-width="0.12">4.12</text>
<rect x="389.20" y="574.50" width="56.40" height="9.30" fill="#dc2824" />
<text x="416.20" y="583.20" font-size="10" fill="#111" text-anchor="middle" stroke="#111" stroke-width="0.12">18.63</text>
<rect x="457.30" y="574.50" width="57.00" height="9.30" fill="#c0c5b4" />
<text x="485.20" y="583.20" font-size="10" fill="#111" text-anchor="middle" stroke="#111" stroke-width="0.12">43.84</text>
<rect x="517.00" y="574.50" width="56.00" height="9.30" fill="#dc2824" />
<text x="544.40" y="583.20" font-size="10" fill="#111" text-anchor="middle" stroke="#111" stroke-width="0.12">176.12</text>
<rect x="575.70" y="574.50" width="56.00" height="9.30" fill="#6e89ba" />
<text x="603.10" y="583.20" font-size="10" fill="#111" text-anchor="middle" stroke="#111" stroke-width="0.12">0.27</text>
<text x="448.8" y="581.25" font-size="8.8" fill="#111" stroke="#111" stroke-width="0.3">–</text>
<text x="643.5" y="580.80" font-size="12.5" fill="#111" stroke="#111" stroke-width="0.3">c</text>
<text x="657.8" y="580.80" font-size="8" fill="#111" stroke="#111" stroke-width="0.3">–</text>
<text x="666.2" y="580.80" font-size="12.5" fill="#111" stroke="#111" stroke-width="0.3">e/f</text>
<text x="145" y="595.18" font-size="11.8" fill="#111" stroke="#111" stroke-width="0.25">CpTPS18</text>
<text x="199.2" y="592.78" font-size="8.4" fill="#111" stroke="#111" stroke-width="0.3">–</text>
<text x="210" y="595.18" font-size="11.8" fill="#111" stroke="#111" stroke-width="0.25">CpTPS9</text>
<rect x="271.00" y="586.78" width="56.40" height="9.30" fill="#e25746" />
<text x="298.00" y="595.48" font-size="10" fill="#111" text-anchor="middle" stroke="#111" stroke-width="0.12">0.21</text>
<rect x="330.10" y="586.78" width="56.40" height="9.30" fill="#edbb8e" />
<text x="357.10" y="595.48" font-size="10" fill="#111" text-anchor="middle" stroke="#111" stroke-width="0.12">0.16</text>
<rect x="389.20" y="586.78" width="56.40" height="9.30" fill="#305cbe" />
<text x="416.20" y="595.48" font-size="10" fill="#111" text-anchor="middle" stroke="#111" stroke-width="0.12">0.03</text>
<rect x="457.30" y="586.78" width="57.00" height="9.30" fill="#f3eab0" />
<text x="485.20" y="595.48" font-size="10" fill="#111" text-anchor="middle" stroke="#111" stroke-width="0.12">0.00</text>
<rect x="517.00" y="586.78" width="56.00" height="9.30" fill="#f3eab0" />
<text x="544.40" y="595.48" font-size="10" fill="#111" text-anchor="middle" stroke="#111" stroke-width="0.12">0.00</text>
<rect x="575.70" y="586.78" width="56.00" height="9.30" fill="#f3eab0" />
<text x="603.10" y="595.48" font-size="10" fill="#111" text-anchor="middle" stroke="#111" stroke-width="0.12">0.00</text>
<text x="448.8" y="593.53" font-size="8.8" fill="#111" stroke="#111" stroke-width="0.3">–</text>
<text x="643.5" y="593.08" font-size="12.5" fill="#111" stroke="#111" stroke-width="0.3">a</text>
<text x="657.8" y="593.08" font-size="8" fill="#111" stroke="#111" stroke-width="0.3">–</text>
<text x="666.2" y="593.08" font-size="12.5" fill="#111" stroke="#111" stroke-width="0.3">a</text>
<text x="145" y="607.46" font-size="11.8" fill="#111" stroke="#111" stroke-width="0.25">CpTPS18</text>
<text x="199.2" y="605.06" font-size="8.4" fill="#111" stroke="#111" stroke-width="0.3">–</text>
<text x="210" y="607.46" font-size="11.8" fill="#111" stroke="#111" stroke-width="0.25">CpTPS10</text>
<rect x="271.00" y="599.06" width="56.40" height="9.30" fill="#e25746" />
<text x="298.00" y="607.76" font-size="10" fill="#111" text-anchor="middle" stroke="#111" stroke-width="0.12">0.21</text>
<rect x="330.10" y="599.06" width="56.40" height="9.30" fill="#edbb8e" />
<text x="357.10" y="607.76" font-size="10" fill="#111" text-anchor="middle" stroke="#111" stroke-width="0.12">0.16</text>
<rect x="389.20" y="599.06" width="56.40" height="9.30" fill="#305cbe" />
<text x="416.20" y="607.76" font-size="10" fill="#111" text-anchor="middle" stroke="#111" stroke-width="0.12">0.03</text>
<rect x="457.30" y="599.06" width="57.00" height="9.30" fill="#90a2b7" />
<text x="485.20" y="607.76" font-size="10" fill="#111" text-anchor="middle" stroke="#111" stroke-width="0.12">0.00</text>
<rect x="517.00" y="599.06" width="56.00" height="9.30" fill="#90a2b7" />
<text x="544.40" y="607.76" font-size="10" fill="#111" text-anchor="middle" stroke="#111" stroke-width="0.12">0.00</text>
<rect x="575.70" y="599.06" width="56.00" height="9.30" fill="#dc2824" />
<text x="603.10" y="607.76" font-size="10" fill="#111" text-anchor="middle" stroke="#111" stroke-width="0.12">0.04</text>
<text x="448.8" y="605.81" font-size="8.8" fill="#111" stroke="#111" stroke-width="0.3">–</text>
<text x="643.5" y="605.36" font-size="12.5" fill="#111" stroke="#111" stroke-width="0.3">a</text>
<text x="657.8" y="605.36" font-size="8" fill="#111" stroke="#111" stroke-width="0.3">–</text>
<text x="666.2" y="605.36" font-size="12.5" fill="#111" stroke="#111" stroke-width="0.3">a</text>
<text x="145" y="619.74" font-size="11.8" fill="#111" stroke="#111" stroke-width="0.25">CpTPS18</text>
<text x="199.2" y="617.34" font-size="8.4" fill="#111" stroke="#111" stroke-width="0.3">–</text>
<text x="210" y="619.74" font-size="11.8" fill="#111" stroke="#111" stroke-width="0.25">CpTPS46</text>
<rect x="271.00" y="611.34" width="56.40" height="9.30" fill="#e25746" />
<text x="298.00" y="620.04" font-size="10" fill="#111" text-anchor="middle" stroke="#111" stroke-width="0.12">0.21</text>
<rect x="330.10" y="611.34" width="56.40" height="9.30" fill="#edbb8e" />
<text x="357.10" y="620.04" font-size="10" fill="#111" text-anchor="middle" stroke="#111" stroke-width="0.12">0.16</text>
<rect x="389.20" y="611.34" width="56.40" height="9.30" fill="#305cbe" />
<text x="416.20" y="620.04" font-size="10" fill="#111" text-anchor="middle" stroke="#111" stroke-width="0.12">0.03</text>
<rect x="457.30" y="611.34" width="57.00" height="9.30" fill="#6e89ba" />
<text x="485.20" y="620.04" font-size="10" fill="#111" text-anchor="middle" stroke="#111" stroke-width="0.12">0.02</text>
<rect x="517.00" y="611.34" width="56.00" height="9.30" fill="#adb7b5" />
<text x="544.40" y="620.04" font-size="10" fill="#111" text-anchor="middle" stroke="#111" stroke-width="0.12">0.07</text>
<rect x="575.70" y="611.34" width="56.00" height="9.30" fill="#dc2824" />
<text x="603.10" y="620.04" font-size="10" fill="#111" text-anchor="middle" stroke="#111" stroke-width="0.12">0.37</text>
<text x="448.8" y="618.09" font-size="8.8" fill="#111" stroke="#111" stroke-width="0.3">–</text>
<text x="643.5" y="617.64" font-size="12.5" fill="#111" stroke="#111" stroke-width="0.3">a</text>
<text x="657.8" y="617.64" font-size="8" fill="#111" stroke="#111" stroke-width="0.3">–</text>
<text x="666.2" y="617.64" font-size="12.5" fill="#111" stroke="#111" stroke-width="0.3">a</text>
<text x="145" y="632.02" font-size="11.8" fill="#111" stroke="#111" stroke-width="0.25">CpTPS46</text>
<text x="199.2" y="629.62" font-size="8.4" fill="#111" stroke="#111" stroke-width="0.3">–</text>
<text x="210" y="632.02" font-size="11.8" fill="#111" stroke="#111" stroke-width="0.25">CpTPS9</text>
<rect x="271.00" y="623.62" width="56.40" height="9.30" fill="#6e89ba" />
<text x="298.00" y="632.32" font-size="10" fill="#111" text-anchor="middle" stroke="#111" stroke-width="0.12">0.02</text>
<rect x="330.10" y="623.62" width="56.40" height="9.30" fill="#adb7b5" />
<text x="357.10" y="632.32" font-size="10" fill="#111" text-anchor="middle" stroke="#111" stroke-width="0.12">0.07</text>
<rect x="389.20" y="623.62" width="56.40" height="9.30" fill="#dc2824" />
<text x="416.20" y="632.32" font-size="10" fill="#111" text-anchor="middle" stroke="#111" stroke-width="0.12">0.37</text>
<rect x="457.30" y="623.62" width="57.00" height="9.30" fill="#f3eab0" />
<text x="485.20" y="632.32" font-size="10" fill="#111" text-anchor="middle" stroke="#111" stroke-width="0.12">0.00</text>
<rect x="517.00" y="623.62" width="56.00" height="9.30" fill="#f3eab0" />
<text x="544.40" y="632.32" font-size="10" fill="#111" text-anchor="middle" stroke="#111" stroke-width="0.12">0.00</text>
<rect x="575.70" y="623.62" width="56.00" height="9.30" fill="#f3eab0" />
<text x="603.10" y="632.32" font-size="10" fill="#111" text-anchor="middle" stroke="#111" stroke-width="0.12">0.00</text>
<text x="448.8" y="630.37" font-size="8.8" fill="#111" stroke="#111" stroke-width="0.3">–</text>
<text x="643.5" y="629.92" font-size="12.5" fill="#111" stroke="#111" stroke-width="0.3">a</text>
<text x="657.8" y="629.92" font-size="8" fill="#111" stroke="#111" stroke-width="0.3">–</text>
<text x="666.2" y="629.92" font-size="12.5" fill="#111" stroke="#111" stroke-width="0.3">a</text>
<text x="145" y="644.30" font-size="11.8" fill="#111" stroke="#111" stroke-width="0.25">CpTPS46</text>
<text x="199.2" y="641.90" font-size="8.4" fill="#111" stroke="#111" stroke-width="0.3">–</text>
<text x="210" y="644.30" font-size="11.8" fill="#111" stroke="#111" stroke-width="0.25">CpTPS10</text>
<rect x="271.00" y="635.90" width="56.40" height="9.30" fill="#6e89ba" />
<text x="298.00" y="644.60" font-size="10" fill="#111" text-anchor="middle" stroke="#111" stroke-width="0.12">0.02</text>
<rect x="330.10" y="635.90" width="56.40" height="9.30" fill="#adb7b5" />
<text x="357.10" y="644.60" font-size="10" fill="#111" text-anchor="middle" stroke="#111" stroke-width="0.12">0.07</text>
<rect x="389.20" y="635.90" width="56.40" height="9.30" fill="#dc2824" />
<text x="416.20" y="644.60" font-size="10" fill="#111" text-anchor="middle" stroke="#111" stroke-width="0.12">0.37</text>
<rect x="457.30" y="635.90" width="57.00" height="9.30" fill="#90a2b7" />
<text x="485.20" y="644.60" font-size="10" fill="#111" text-anchor="middle" stroke="#111" stroke-width="0.12">0.00</text>
<rect x="517.00" y="635.90" width="56.00" height="9.30" fill="#90a2b7" />
<text x="544.40" y="644.60" font-size="10" fill="#111" text-anchor="middle" stroke="#111" stroke-width="0.12">0.00</text>
<rect x="575.70" y="635.90" width="56.00" height="9.30" fill="#dc2824" />
<text x="603.10" y="644.60" font-size="10" fill="#111" text-anchor="middle" stroke="#111" stroke-width="0.12">0.04</text>
<text x="448.8" y="642.65" font-size="8.8" fill="#111" stroke="#111" stroke-width="0.3">–</text>
<text x="643.5" y="642.20" font-size="12.5" fill="#111" stroke="#111" stroke-width="0.3">a</text>
<text x="657.8" y="642.20" font-size="8" fill="#111" stroke="#111" stroke-width="0.3">–</text>
<text x="666.2" y="642.20" font-size="12.5" fill="#111" stroke="#111" stroke-width="0.3">a</text>
<text x="145" y="656.58" font-size="11.8" fill="#111" stroke="#111" stroke-width="0.25">CpTPS61</text>
<text x="199.2" y="654.18" font-size="8.4" fill="#111" stroke="#111" stroke-width="0.3">–</text>
<text x="210" y="656.58" font-size="11.8" fill="#111" stroke="#111" stroke-width="0.25">CpTPS24</text>
<rect x="271.00" y="648.18" width="56.40" height="9.30" fill="#90a2b7" />
<text x="298.00" y="656.88" font-size="10" fill="#111" text-anchor="middle" stroke="#111" stroke-width="0.12">0.22</text>
<rect x="330.10" y="648.18" width="56.40" height="9.30" fill="#90a2b7" />
<text x="357.10" y="656.88" font-size="10" fill="#111" text-anchor="middle" stroke="#111" stroke-width="0.12">0.13</text>
<rect x="389.20" y="648.18" width="56.40" height="9.30" fill="#dc2824" />
<text x="416.20" y="656.88" font-size="10" fill="#111" text-anchor="middle" stroke="#111" stroke-width="0.12">6.21</text>
<rect x="457.30" y="648.18" width="57.00" height="9.30" fill="#90a2b7" />
<text x="485.20" y="656.88" font-size="10" fill="#111" text-anchor="middle" stroke="#111" stroke-width="0.12">0.01</text>
<rect x="517.00" y="648.18" width="56.00" height="9.30" fill="#90a2b7" />
<text x="544.40" y="656.88" font-size="10" fill="#111" text-anchor="middle" stroke="#111" stroke-width="0.12">0.01</text>
<rect x="575.70" y="648.18" width="56.00" height="9.30" fill="#dc2824" />
<text x="603.10" y="656.88" font-size="10" fill="#111" text-anchor="middle" stroke="#111" stroke-width="0.12">0.05</text>
<text x="448.8" y="654.93" font-size="8.8" fill="#111" stroke="#111" stroke-width="0.3">–</text>
<text x="643.5" y="654.48" font-size="12.5" fill="#111" stroke="#111" stroke-width="0.3">b</text>
<text x="657.8" y="654.48" font-size="8" fill="#111" stroke="#111" stroke-width="0.3">–</text>
<text x="666.2" y="654.48" font-size="12.5" fill="#111" stroke="#111" stroke-width="0.3">b</text>
<text x="145" y="668.86" font-size="11.8" fill="#111" stroke="#111" stroke-width="0.25">CpTPS1</text>
<text x="199.2" y="666.46" font-size="8.4" fill="#111" stroke="#111" stroke-width="0.3">–</text>
<text x="210" y="668.86" font-size="11.8" fill="#111" stroke="#111" stroke-width="0.25">CpTPS2</text>
<rect x="271.00" y="660.46" width="56.40" height="9.30" fill="#9dacb6" />
<text x="298.00" y="669.16" font-size="10" fill="#111" text-anchor="middle" stroke="#111" stroke-width="0.12">0.21</text>
<rect x="330.10" y="660.46" width="56.40" height="9.30" fill="#7e95b8" />
<text x="357.10" y="669.16" font-size="10" fill="#111" text-anchor="middle" stroke="#111" stroke-width="0.12">0.09</text>
<rect x="389.20" y="660.46" width="56.40" height="9.30" fill="#dc2824" />
<text x="416.20" y="669.16" font-size="10" fill="#111" text-anchor="middle" stroke="#111" stroke-width="0.12">1.27</text>
<rect x="457.30" y="660.46" width="57.00" height="9.30" fill="#f3eab0" />
<text x="485.20" y="669.16" font-size="10" fill="#111" text-anchor="middle" stroke="#111" stroke-width="0.12">0.00</text>
<rect x="517.00" y="660.46" width="56.00" height="9.30" fill="#f3eab0" />
<text x="544.40" y="669.16" font-size="10" fill="#111" text-anchor="middle" stroke="#111" stroke-width="0.12">0.00</text>
<rect x="575.70" y="660.46" width="56.00" height="9.30" fill="#f3eab0" />
<text x="603.10" y="669.16" font-size="10" fill="#111" text-anchor="middle" stroke="#111" stroke-width="0.12">0.00</text>
<text x="448.8" y="667.21" font-size="8.8" fill="#111" stroke="#111" stroke-width="0.3">–</text>
<text x="643.5" y="666.76" font-size="12.5" fill="#111" stroke="#111" stroke-width="0.3">a</text>
<text x="657.8" y="666.76" font-size="8" fill="#111" stroke="#111" stroke-width="0.3">–</text>
<text x="666.2" y="666.76" font-size="12.5" fill="#111" stroke="#111" stroke-width="0.3">a</text>
<text x="145" y="681.14" font-size="11.8" fill="#111" stroke="#111" stroke-width="0.25">CpTPS2</text>
<text x="199.2" y="678.74" font-size="8.4" fill="#111" stroke="#111" stroke-width="0.3">–</text>
<text x="210" y="681.14" font-size="11.8" fill="#111" stroke="#111" stroke-width="0.25">CpTPS3</text>
<rect x="271.00" y="672.74" width="56.40" height="9.30" fill="#f3eab0" />
<text x="298.00" y="681.44" font-size="10" fill="#111" text-anchor="middle" stroke="#111" stroke-width="0.12">0.00</text>
<rect x="330.10" y="672.74" width="56.40" height="9.30" fill="#f3eab0" />
<text x="357.10" y="681.44" font-size="10" fill="#111" text-anchor="middle" stroke="#111" stroke-width="0.12">0.00</text>
<rect x="389.20" y="672.74" width="56.40" height="9.30" fill="#f3eab0" />
<text x="416.20" y="681.44" font-size="10" fill="#111" text-anchor="middle" stroke="#111" stroke-width="0.12">0.00</text>
<rect x="457.30" y="672.74" width="57.00" height="9.30" fill="#e7e1b1" />
<text x="485.20" y="681.44" font-size="10" fill="#111" text-anchor="middle" stroke="#111" stroke-width="0.12">0.14</text>
<rect x="517.00" y="672.74" width="56.00" height="9.30" fill="#dc2824" />
<text x="544.40" y="681.44" font-size="10" fill="#111" text-anchor="middle" stroke="#111" stroke-width="0.12">0.19</text>
<rect x="575.70" y="672.74" width="56.00" height="9.30" fill="#5778bb" />
<text x="603.10" y="681.44" font-size="10" fill="#111" text-anchor="middle" stroke="#111" stroke-width="0.12">0.11</text>
<text x="448.8" y="679.49" font-size="8.8" fill="#111" stroke="#111" stroke-width="0.3">–</text>
<text x="643.5" y="679.04" font-size="12.5" fill="#111" stroke="#111" stroke-width="0.3">a</text>
<text x="657.8" y="679.04" font-size="8" fill="#111" stroke="#111" stroke-width="0.3">–</text>
<text x="666.2" y="679.04" font-size="12.5" fill="#111" stroke="#111" stroke-width="0.3">a</text>
<text x="145" y="693.42" font-size="11.8" fill="#111" stroke="#111" stroke-width="0.25">CpTPS25</text>
<text x="199.2" y="691.02" font-size="8.4" fill="#111" stroke="#111" stroke-width="0.3">–</text>
<text x="210" y="693.42" font-size="11.8" fill="#111" stroke="#111" stroke-width="0.25">CpTPS26</text>
<rect x="271.00" y="685.02" width="56.40" height="9.30" fill="#90a2b7" />
<text x="298.00" y="693.72" font-size="10" fill="#111" text-anchor="middle" stroke="#111" stroke-width="0.12">0.19</text>
<rect x="330.10" y="685.02" width="56.40" height="9.30" fill="#90a2b7" />
<text x="357.10" y="693.72" font-size="10" fill="#111" text-anchor="middle" stroke="#111" stroke-width="0.12">0.19</text>
<rect x="389.20" y="685.02" width="56.40" height="9.30" fill="#dc2824" />
<text x="416.20" y="693.72" font-size="10" fill="#111" text-anchor="middle" stroke="#111" stroke-width="0.12">0.65</text>
<rect x="457.30" y="685.02" width="57.00" height="9.30" fill="#90a2b7" />
<text x="485.20" y="693.72" font-size="10" fill="#111" text-anchor="middle" stroke="#111" stroke-width="0.12">1.89</text>
<rect x="517.00" y="685.02" width="56.00" height="9.30" fill="#90a2b7" />
<text x="544.40" y="693.72" font-size="10" fill="#111" text-anchor="middle" stroke="#111" stroke-width="0.12">1.83</text>
<rect x="575.70" y="685.02" width="56.00" height="9.30" fill="#dc2824" />
<text x="603.10" y="693.72" font-size="10" fill="#111" text-anchor="middle" stroke="#111" stroke-width="0.12">8.00</text>
<text x="448.8" y="691.77" font-size="8.8" fill="#111" stroke="#111" stroke-width="0.3">–</text>
<text x="643.5" y="691.32" font-size="12.5" fill="#111" stroke="#111" stroke-width="0.3">e/f</text>
<text x="657.8" y="691.32" font-size="8" fill="#111" stroke="#111" stroke-width="0.3">–</text>
<text x="666.2" y="691.32" font-size="12.5" fill="#111" stroke="#111" stroke-width="0.3">e/f</text>
<text x="145" y="705.70" font-size="11.8" fill="#111" stroke="#111" stroke-width="0.25">CpTPS27</text>
<text x="199.2" y="703.30" font-size="8.4" fill="#111" stroke="#111" stroke-width="0.3">–</text>
<text x="210" y="705.70" font-size="11.8" fill="#111" stroke="#111" stroke-width="0.25">CpTPS29</text>
<rect x="271.00" y="697.30" width="56.40" height="9.30" fill="#adb7b5" />
<text x="298.00" y="706.00" font-size="10" fill="#111" text-anchor="middle" stroke="#111" stroke-width="0.12">0.01</text>
<rect x="330.10" y="697.30" width="56.40" height="9.30" fill="#dc2824" />
<text x="357.10" y="706.00" font-size="10" fill="#111" text-anchor="middle" stroke="#111" stroke-width="0.12">0.06</text>
<rect x="389.20" y="697.30" width="56.40" height="9.30" fill="#90a2b7" />
<text x="416.20" y="706.00" font-size="10" fill="#111" text-anchor="middle" stroke="#111" stroke-width="0.12">0.00</text>
<rect x="457.30" y="697.30" width="57.00" height="9.30" fill="#6e89ba" />
<text x="485.20" y="706.00" font-size="10" fill="#111" text-anchor="middle" stroke="#111" stroke-width="0.12">0.03</text>
<rect x="517.00" y="697.30" width="56.00" height="9.30" fill="#dc2824" />
<text x="544.40" y="706.00" font-size="10" fill="#111" text-anchor="middle" stroke="#111" stroke-width="0.12">0.36</text>
<rect x="575.70" y="697.30" width="56.00" height="9.30" fill="#adb7b5" />
<text x="603.10" y="706.00" font-size="10" fill="#111" text-anchor="middle" stroke="#111" stroke-width="0.12">0.08</text>
<text x="448.8" y="704.05" font-size="8.8" fill="#111" stroke="#111" stroke-width="0.3">–</text>
<text x="643.5" y="703.60" font-size="12.5" fill="#111" stroke="#111" stroke-width="0.3">b</text>
<text x="657.8" y="703.60" font-size="8" fill="#111" stroke="#111" stroke-width="0.3">–</text>
<text x="666.2" y="703.60" font-size="12.5" fill="#111" stroke="#111" stroke-width="0.3">b</text>
<text x="145" y="717.98" font-size="11.8" fill="#111" stroke="#111" stroke-width="0.25">CpTPS32</text>
<text x="199.2" y="715.58" font-size="8.4" fill="#111" stroke="#111" stroke-width="0.3">–</text>
<text x="210" y="717.98" font-size="11.8" fill="#111" stroke="#111" stroke-width="0.25">CpTPS33</text>
<rect x="271.00" y="709.58" width="56.40" height="9.30" fill="#305cbe" />
<text x="298.00" y="718.28" font-size="10" fill="#111" text-anchor="middle" stroke="#111" stroke-width="0.12">0.01</text>
<rect x="330.10" y="709.58" width="56.40" height="9.30" fill="#e25746" />
<text x="357.10" y="718.28" font-size="10" fill="#111" text-anchor="middle" stroke="#111" stroke-width="0.12">0.03</text>
<rect x="389.20" y="709.58" width="56.40" height="9.30" fill="#edbb8e" />
<text x="416.20" y="718.28" font-size="10" fill="#111" text-anchor="middle" stroke="#111" stroke-width="0.12">0.02</text>
<rect x="457.30" y="709.58" width="57.00" height="9.30" fill="#6e89ba" />
<text x="485.20" y="718.28" font-size="10" fill="#111" text-anchor="middle" stroke="#111" stroke-width="0.12">0.00</text>
<rect x="517.00" y="709.58" width="56.00" height="9.30" fill="#dc2824" />
<text x="544.40" y="718.28" font-size="10" fill="#111" text-anchor="middle" stroke="#111" stroke-width="0.12">0.05</text>
<rect x="575.70" y="709.58" width="56.00" height="9.30" fill="#adb7b5" />
<text x="603.10" y="718.28" font-size="10" fill="#111" text-anchor="middle" stroke="#111" stroke-width="0.12">0.01</text>
<text x="448.8" y="716.33" font-size="8.8" fill="#111" stroke="#111" stroke-width="0.3">–</text>
<text x="643.5" y="715.88" font-size="12.5" fill="#111" stroke="#111" stroke-width="0.3">e/f</text>
<text x="657.8" y="715.88" font-size="8" fill="#111" stroke="#111" stroke-width="0.3">–</text>
<text x="666.2" y="715.88" font-size="12.5" fill="#111" stroke="#111" stroke-width="0.3">e/f</text>
<text x="145" y="730.26" font-size="11.8" fill="#111" stroke="#111" stroke-width="0.25">CpTPS34</text>
<text x="199.2" y="727.86" font-size="8.4" fill="#111" stroke="#111" stroke-width="0.3">–</text>
<text x="210" y="730.26" font-size="11.8" fill="#111" stroke="#111" stroke-width="0.25">CpTPS37</text>
<rect x="271.00" y="721.86" width="56.40" height="9.30" fill="#adb7b5" />
<text x="298.00" y="730.56" font-size="10" fill="#111" text-anchor="middle" stroke="#111" stroke-width="0.12">0.00</text>
<rect x="330.10" y="721.86" width="56.40" height="9.30" fill="#dc2824" />
<text x="357.10" y="730.56" font-size="10" fill="#111" text-anchor="middle" stroke="#111" stroke-width="0.12">0.00</text>
<rect x="389.20" y="721.86" width="56.40" height="9.30" fill="#90a2b7" />
<text x="416.20" y="730.56" font-size="10" fill="#111" text-anchor="middle" stroke="#111" stroke-width="0.12">0.00</text>
<rect x="457.30" y="721.86" width="57.00" height="9.30" fill="#f2e2aa" />
<text x="485.20" y="730.56" font-size="10" fill="#111" text-anchor="middle" stroke="#111" stroke-width="0.12">0.01</text>
<rect x="517.00" y="721.86" width="56.00" height="9.30" fill="#df3f35" />
<text x="544.40" y="730.56" font-size="10" fill="#111" text-anchor="middle" stroke="#111" stroke-width="0.12">0.02</text>
<rect x="575.70" y="721.86" width="56.00" height="9.30" fill="#305cbe" />
<text x="603.10" y="730.56" font-size="10" fill="#111" text-anchor="middle" stroke="#111" stroke-width="0.12">0.00</text>
<text x="448.8" y="728.61" font-size="8.8" fill="#111" stroke="#111" stroke-width="0.3">–</text>
<text x="643.5" y="728.16" font-size="12.5" fill="#111" stroke="#111" stroke-width="0.3">b</text>
<text x="657.8" y="728.16" font-size="8" fill="#111" stroke="#111" stroke-width="0.3">–</text>
<text x="666.2" y="728.16" font-size="12.5" fill="#111" stroke="#111" stroke-width="0.3">b</text>
<text x="145" y="742.54" font-size="11.8" fill="#111" stroke="#111" stroke-width="0.25">CpTPS35</text>
<text x="199.2" y="740.14" font-size="8.4" fill="#111" stroke="#111" stroke-width="0.3">–</text>
<text x="210" y="742.54" font-size="11.8" fill="#111" stroke="#111" stroke-width="0.25">CpTPS38</text>
<rect x="271.00" y="734.14" width="56.40" height="9.30" fill="#305cbe" />
<text x="298.00" y="742.84" font-size="10" fill="#111" text-anchor="middle" stroke="#111" stroke-width="0.12">0.08</text>
<rect x="330.10" y="734.14" width="56.40" height="9.30" fill="#edbb8e" />
<text x="357.10" y="742.84" font-size="10" fill="#111" text-anchor="middle" stroke="#111" stroke-width="0.12">0.12</text>
<rect x="389.20" y="734.14" width="56.40" height="9.30" fill="#e25746" />
<text x="416.20" y="742.84" font-size="10" fill="#111" text-anchor="middle" stroke="#111" stroke-width="0.12">0.14</text>
<rect x="457.30" y="734.14" width="57.00" height="9.30" fill="#adb7b5" />
<text x="485.20" y="742.84" font-size="10" fill="#111" text-anchor="middle" stroke="#111" stroke-width="0.12">0.42</text>
<rect x="517.00" y="734.14" width="56.00" height="9.30" fill="#7e95b8" />
<text x="544.40" y="742.84" font-size="10" fill="#111" text-anchor="middle" stroke="#111" stroke-width="0.12">0.20</text>
<rect x="575.70" y="734.14" width="56.00" height="9.30" fill="#dc2824" />
<text x="603.10" y="742.84" font-size="10" fill="#111" text-anchor="middle" stroke="#111" stroke-width="0.12">2.11</text>
<text x="448.8" y="740.89" font-size="8.8" fill="#111" stroke="#111" stroke-width="0.3">–</text>
<text x="643.5" y="740.44" font-size="12.5" fill="#111" stroke="#111" stroke-width="0.3">b</text>
<text x="657.8" y="740.44" font-size="8" fill="#111" stroke="#111" stroke-width="0.3">–</text>
<text x="666.2" y="740.44" font-size="12.5" fill="#111" stroke="#111" stroke-width="0.3">b</text>
<text x="145" y="754.82" font-size="11.8" fill="#111" stroke="#111" stroke-width="0.25">CpTPS48</text>
<text x="199.2" y="752.42" font-size="8.4" fill="#111" stroke="#111" stroke-width="0.3">–</text>
<text x="210" y="754.82" font-size="11.8" fill="#111" stroke="#111" stroke-width="0.25">CpTPS49</text>
<rect x="271.00" y="746.42" width="56.40" height="9.30" fill="#90a2b7" />
<text x="298.00" y="755.12" font-size="10" fill="#111" text-anchor="middle" stroke="#111" stroke-width="0.12">0.00</text>
<rect x="330.10" y="746.42" width="56.40" height="9.30" fill="#dc2824" />
<text x="357.10" y="755.12" font-size="10" fill="#111" text-anchor="middle" stroke="#111" stroke-width="0.12">0.00</text>
<rect x="389.20" y="746.42" width="56.40" height="9.30" fill="#90a2b7" />
<text x="416.20" y="755.12" font-size="10" fill="#111" text-anchor="middle" stroke="#111" stroke-width="0.12">0.00</text>
<rect x="457.30" y="746.42" width="57.00" height="9.30" fill="#90a2b7" />
<text x="485.20" y="755.12" font-size="10" fill="#111" text-anchor="middle" stroke="#111" stroke-width="0.12">0.21</text>
<rect x="517.00" y="746.42" width="56.00" height="9.30" fill="#90a2b7" />
<text x="544.40" y="755.12" font-size="10" fill="#111" text-anchor="middle" stroke="#111" stroke-width="0.12">0.23</text>
<rect x="575.70" y="746.42" width="56.00" height="9.30" fill="#dc2824" />
<text x="603.10" y="755.12" font-size="10" fill="#111" text-anchor="middle" stroke="#111" stroke-width="0.12">2.72</text>
<text x="448.8" y="753.17" font-size="8.8" fill="#111" stroke="#111" stroke-width="0.3">–</text>
<text x="643.5" y="752.72" font-size="12.5" fill="#111" stroke="#111" stroke-width="0.3">a</text>
<text x="657.8" y="752.72" font-size="8" fill="#111" stroke="#111" stroke-width="0.3">–</text>
<text x="666.2" y="752.72" font-size="12.5" fill="#111" stroke="#111" stroke-width="0.3">a</text>
<text x="145" y="767.10" font-size="11.8" fill="#111" stroke="#111" stroke-width="0.25">CpTPS52</text>
<text x="199.2" y="764.70" font-size="8.4" fill="#111" stroke="#111" stroke-width="0.3">–</text>
<text x="210" y="767.10" font-size="11.8" fill="#111" stroke="#111" stroke-width="0.25">CpTPS53</text>
<rect x="271.00" y="758.70" width="56.40" height="9.30" fill="#6e89ba" />
<text x="298.00" y="767.40" font-size="10" fill="#111" text-anchor="middle" stroke="#111" stroke-width="0.12">1.33</text>
<rect x="330.10" y="758.70" width="56.40" height="9.30" fill="#dc2824" />
<text x="357.10" y="767.40" font-size="10" fill="#111" text-anchor="middle" stroke="#111" stroke-width="0.12">8.98</text>
<rect x="389.20" y="758.70" width="56.40" height="9.30" fill="#c0c5b4" />
<text x="416.20" y="767.40" font-size="10" fill="#111" text-anchor="middle" stroke="#111" stroke-width="0.12">3.23</text>
<rect x="457.30" y="758.70" width="57.00" height="9.30" fill="#305cbe" />
<text x="485.20" y="767.40" font-size="10" fill="#111" text-anchor="middle" stroke="#111" stroke-width="0.12">9.60</text>
<rect x="517.00" y="758.70" width="56.00" height="9.30" fill="#e25746" />
<text x="544.40" y="767.40" font-size="10" fill="#111" text-anchor="middle" stroke="#111" stroke-width="0.12">20.66</text>
<rect x="575.70" y="758.70" width="56.00" height="9.30" fill="#f1daa5" />
<text x="603.10" y="767.40" font-size="10" fill="#111" text-anchor="middle" stroke="#111" stroke-width="0.12">16.14</text>
<text x="448.8" y="765.45" font-size="8.8" fill="#111" stroke="#111" stroke-width="0.3">–</text>
<text x="643.5" y="765.00" font-size="12.5" fill="#111" stroke="#111" stroke-width="0.3">g</text>
<text x="657.8" y="765.00" font-size="8" fill="#111" stroke="#111" stroke-width="0.3">–</text>
<text x="666.2" y="765.00" font-size="12.5" fill="#111" stroke="#111" stroke-width="0.3">b</text>
<text x="145" y="779.38" font-size="11.8" fill="#111" stroke="#111" stroke-width="0.25">CpTPS58</text>
<text x="199.2" y="776.98" font-size="8.4" fill="#111" stroke="#111" stroke-width="0.3">–</text>
<text x="210" y="779.38" font-size="11.8" fill="#111" stroke="#111" stroke-width="0.25">CpTPS59</text>
<rect x="271.00" y="770.98" width="56.40" height="9.30" fill="#f2e2aa" />
<text x="298.00" y="779.68" font-size="10" fill="#111" text-anchor="middle" stroke="#111" stroke-width="0.12">809.61</text>
<rect x="330.10" y="770.98" width="56.40" height="9.30" fill="#e25746" />
<text x="357.10" y="779.68" font-size="10" fill="#111" text-anchor="middle" stroke="#111" stroke-width="0.12">1474.50</text>
<rect x="389.20" y="770.98" width="56.40" height="9.30" fill="#5778bb" />
<text x="416.20" y="779.68" font-size="10" fill="#111" text-anchor="middle" stroke="#111" stroke-width="0.12">0.53</text>
<rect x="457.30" y="770.98" width="57.00" height="9.30" fill="#ecb086" />
<text x="485.20" y="779.68" font-size="10" fill="#111" text-anchor="middle" stroke="#111" stroke-width="0.12">277.37</text>
<rect x="517.00" y="770.98" width="56.00" height="9.30" fill="#e46a54" />
<text x="544.40" y="779.68" font-size="10" fill="#111" text-anchor="middle" stroke="#111" stroke-width="0.12">357.17</text>
<rect x="575.70" y="770.98" width="56.00" height="9.30" fill="#305cbe" />
<text x="603.10" y="779.68" font-size="10" fill="#111" text-anchor="middle" stroke="#111" stroke-width="0.12">5.42</text>
<text x="448.8" y="777.73" font-size="8.8" fill="#111" stroke="#111" stroke-width="0.3">–</text>
<text x="643.5" y="777.28" font-size="12.5" fill="#111" stroke="#111" stroke-width="0.3">b</text>
<text x="657.8" y="777.28" font-size="8" fill="#111" stroke="#111" stroke-width="0.3">–</text>
<text x="666.2" y="777.28" font-size="12.5" fill="#111" stroke="#111" stroke-width="0.3">b</text>
<text x="145" y="791.66" font-size="11.8" fill="#111" stroke="#111" stroke-width="0.25">CpTPS59</text>
<text x="199.2" y="789.26" font-size="8.4" fill="#111" stroke="#111" stroke-width="0.3">–</text>
<text x="210" y="791.66" font-size="11.8" fill="#111" stroke="#111" stroke-width="0.25">CpTPS60</text>
<rect x="271.00" y="783.26" width="56.40" height="9.30" fill="#ecb086" />
<text x="298.00" y="791.96" font-size="10" fill="#111" text-anchor="middle" stroke="#111" stroke-width="0.12">277.37</text>
<rect x="330.10" y="783.26" width="56.40" height="9.30" fill="#e46a54" />
<text x="357.10" y="791.96" font-size="10" fill="#111" text-anchor="middle" stroke="#111" stroke-width="0.12">357.17</text>
<rect x="389.20" y="783.26" width="56.40" height="9.30" fill="#305cbe" />
<text x="416.20" y="791.96" font-size="10" fill="#111" text-anchor="middle" stroke="#111" stroke-width="0.12">5.42</text>
<rect x="457.30" y="783.26" width="57.00" height="9.30" fill="#90a2b7" />
<text x="485.20" y="791.96" font-size="10" fill="#111" text-anchor="middle" stroke="#111" stroke-width="0.12">0.41</text>
<rect x="517.00" y="783.26" width="56.00" height="9.30" fill="#90a2b7" />
<text x="544.40" y="791.96" font-size="10" fill="#111" text-anchor="middle" stroke="#111" stroke-width="0.12">0.45</text>
<rect x="575.70" y="783.26" width="56.00" height="9.30" fill="#dc2824" />
<text x="603.10" y="791.96" font-size="10" fill="#111" text-anchor="middle" stroke="#111" stroke-width="0.12">4.28</text>
<text x="448.8" y="790.01" font-size="8.8" fill="#111" stroke="#111" stroke-width="0.3">–</text>
<text x="643.5" y="789.56" font-size="12.5" fill="#111" stroke="#111" stroke-width="0.3">b</text>
<text x="657.8" y="789.56" font-size="8" fill="#111" stroke="#111" stroke-width="0.3">–</text>
<text x="666.2" y="789.56" font-size="12.5" fill="#111" stroke="#111" stroke-width="0.3">b</text>
<text x="145" y="803.94" font-size="11.8" fill="#111" stroke="#111" stroke-width="0.25">CpTPS62</text>
<text x="199.2" y="801.54" font-size="8.4" fill="#111" stroke="#111" stroke-width="0.3">–</text>
<text x="210" y="803.94" font-size="11.8" fill="#111" stroke="#111" stroke-width="0.25">CpTPS63</text>
<rect x="271.00" y="795.54" width="56.40" height="9.30" fill="#adb7b5" />
<text x="298.00" y="804.24" font-size="10" fill="#111" text-anchor="middle" stroke="#111" stroke-width="0.12">0.02</text>
<rect x="330.10" y="795.54" width="56.40" height="9.30" fill="#dc2824" />
<text x="357.10" y="804.24" font-size="10" fill="#111" text-anchor="middle" stroke="#111" stroke-width="0.12">0.13</text>
<rect x="389.20" y="795.54" width="56.40" height="9.30" fill="#7e95b8" />
<text x="416.20" y="804.24" font-size="10" fill="#111" text-anchor="middle" stroke="#111" stroke-width="0.12">0.00</text>
<rect x="457.30" y="795.54" width="57.00" height="9.30" fill="#90a2b7" />
<text x="485.20" y="804.24" font-size="10" fill="#111" text-anchor="middle" stroke="#111" stroke-width="0.12">0.01</text>
<rect x="517.00" y="795.54" width="56.00" height="9.30" fill="#90a2b7" />
<text x="544.40" y="804.24" font-size="10" fill="#111" text-anchor="middle" stroke="#111" stroke-width="0.12">0.02</text>
<rect x="575.70" y="795.54" width="56.00" height="9.30" fill="#dc2824" />
<text x="603.10" y="804.24" font-size="10" fill="#111" text-anchor="middle" stroke="#111" stroke-width="0.12">0.16</text>
<text x="448.8" y="802.29" font-size="8.8" fill="#111" stroke="#111" stroke-width="0.3">–</text>
<text x="643.5" y="801.84" font-size="12.5" fill="#111" stroke="#111" stroke-width="0.3">b</text>
<text x="657.8" y="801.84" font-size="8" fill="#111" stroke="#111" stroke-width="0.3">–</text>
<text x="666.2" y="801.84" font-size="12.5" fill="#111" stroke="#111" stroke-width="0.3">b</text>
<text x="145" y="816.22" font-size="11.8" fill="#111" stroke="#111" stroke-width="0.25">CpTPS12</text>
<text x="199.2" y="813.82" font-size="8.4" fill="#111" stroke="#111" stroke-width="0.3">–</text>
<text x="210" y="816.22" font-size="11.8" fill="#111" stroke="#111" stroke-width="0.25">CpTPS17</text>
<rect x="271.00" y="807.82" width="56.40" height="9.30" fill="#f3eab0" />
<text x="298.00" y="816.52" font-size="10" fill="#111" text-anchor="middle" stroke="#111" stroke-width="0.12">0.00</text>
<rect x="330.10" y="807.82" width="56.40" height="9.30" fill="#f3eab0" />
<text x="357.10" y="816.52" font-size="10" fill="#111" text-anchor="middle" stroke="#111" stroke-width="0.12">0.00</text>
<rect x="389.20" y="807.82" width="56.40" height="9.30" fill="#f3eab0" />
<text x="416.20" y="816.52" font-size="10" fill="#111" text-anchor="middle" stroke="#111" stroke-width="0.12">0.00</text>
<rect x="457.30" y="807.82" width="57.00" height="9.30" fill="#90a2b7" />
<text x="485.20" y="816.52" font-size="10" fill="#111" text-anchor="middle" stroke="#111" stroke-width="0.12">0.00</text>
<rect x="517.00" y="807.82" width="56.00" height="9.30" fill="#90a2b7" />
<text x="544.40" y="816.52" font-size="10" fill="#111" text-anchor="middle" stroke="#111" stroke-width="0.12">0.00</text>
<rect x="575.70" y="807.82" width="56.00" height="9.30" fill="#dc2824" />
<text x="603.10" y="816.52" font-size="10" fill="#111" text-anchor="middle" stroke="#111" stroke-width="0.12">0.04</text>
<text x="448.8" y="814.57" font-size="8.8" fill="#111" stroke="#111" stroke-width="0.3">–</text>
<text x="643.5" y="814.12" font-size="12.5" fill="#111" stroke="#111" stroke-width="0.3">a</text>
<text x="657.8" y="814.12" font-size="8" fill="#111" stroke="#111" stroke-width="0.3">–</text>
<text x="666.2" y="814.12" font-size="12.5" fill="#111" stroke="#111" stroke-width="0.3">a</text>
<text x="145" y="828.50" font-size="11.8" fill="#111" stroke="#111" stroke-width="0.25">CsTPS1</text>
<text x="199.2" y="826.10" font-size="8.4" fill="#111" stroke="#111" stroke-width="0.3">–</text>
<text x="210" y="828.50" font-size="11.8" fill="#111" stroke="#111" stroke-width="0.25">CsTPS2</text>
<rect x="271.00" y="820.10" width="56.40" height="9.30" fill="#dc2824" />
<text x="298.00" y="828.80" font-size="10" fill="#111" text-anchor="middle" stroke="#111" stroke-width="0.12">0.03</text>
<rect x="330.10" y="820.10" width="56.40" height="9.30" fill="#d4d3b2" />
<text x="357.10" y="828.80" font-size="10" fill="#111" text-anchor="middle" stroke="#111" stroke-width="0.12">0.02</text>
<rect x="389.20" y="820.10" width="56.40" height="9.30" fill="#5778bb" />
<text x="416.20" y="828.80" font-size="10" fill="#111" text-anchor="middle" stroke="#111" stroke-width="0.12">0.02</text>
<rect x="457.30" y="820.10" width="57.00" height="9.30" fill="#e04b3d" />
<text x="485.20" y="828.80" font-size="10" fill="#111" text-anchor="middle" stroke="#111" stroke-width="0.12">0.04</text>
<rect x="517.00" y="820.10" width="56.00" height="9.30" fill="#f1daa5" />
<text x="544.40" y="828.80" font-size="10" fill="#111" text-anchor="middle" stroke="#111" stroke-width="0.12">0.03</text>
<rect x="575.70" y="820.10" width="56.00" height="9.30" fill="#4067bd" />
<text x="603.10" y="828.80" font-size="10" fill="#111" text-anchor="middle" stroke="#111" stroke-width="0.12">0.01</text>
<text x="448.8" y="826.85" font-size="8.8" fill="#111" stroke="#111" stroke-width="0.3">–</text>
<text x="643.5" y="826.40" font-size="12.5" fill="#111" stroke="#111" stroke-width="0.3">a</text>
<text x="657.8" y="826.40" font-size="8" fill="#111" stroke="#111" stroke-width="0.3">–</text>
<text x="666.2" y="826.40" font-size="12.5" fill="#111" stroke="#111" stroke-width="0.3">a</text>
<text x="145" y="840.78" font-size="11.8" fill="#111" stroke="#111" stroke-width="0.25">CsTPS3</text>
<text x="199.2" y="838.38" font-size="8.4" fill="#111" stroke="#111" stroke-width="0.3">–</text>
<text x="210" y="840.78" font-size="11.8" fill="#111" stroke="#111" stroke-width="0.25">CsTPS4</text>
<rect x="271.00" y="832.38" width="56.40" height="9.30" fill="#90a2b7" />
<text x="298.00" y="841.08" font-size="10" fill="#111" text-anchor="middle" stroke="#111" stroke-width="0.12">0.06</text>
<rect x="330.10" y="832.38" width="56.40" height="9.30" fill="#90a2b7" />
<text x="357.10" y="841.08" font-size="10" fill="#111" text-anchor="middle" stroke="#111" stroke-width="0.12">0.01</text>
<rect x="389.20" y="832.38" width="56.40" height="9.30" fill="#dc2824" />
<text x="416.20" y="841.08" font-size="10" fill="#111" text-anchor="middle" stroke="#111" stroke-width="0.12">22.25</text>
<rect x="457.30" y="832.38" width="57.00" height="9.30" fill="#adb7b5" />
<text x="485.20" y="841.08" font-size="10" fill="#111" text-anchor="middle" stroke="#111" stroke-width="0.12">0.15</text>
<rect x="517.00" y="832.38" width="56.00" height="9.30" fill="#7e95b8" />
<text x="544.40" y="841.08" font-size="10" fill="#111" text-anchor="middle" stroke="#111" stroke-width="0.12">0.03</text>
<rect x="575.70" y="832.38" width="56.00" height="9.30" fill="#dc2824" />
<text x="603.10" y="841.08" font-size="10" fill="#111" text-anchor="middle" stroke="#111" stroke-width="0.12">0.64</text>
<text x="448.8" y="839.13" font-size="8.8" fill="#111" stroke="#111" stroke-width="0.3">–</text>
<text x="643.5" y="838.68" font-size="12.5" fill="#111" stroke="#111" stroke-width="0.3">e/f</text>
<text x="657.8" y="838.68" font-size="8" fill="#111" stroke="#111" stroke-width="0.3">–</text>
<text x="666.2" y="838.68" font-size="12.5" fill="#111" stroke="#111" stroke-width="0.3">e/f</text>
<text x="145" y="853.06" font-size="11.8" fill="#111" stroke="#111" stroke-width="0.25">CsTPS6</text>
<text x="199.2" y="850.66" font-size="8.4" fill="#111" stroke="#111" stroke-width="0.3">–</text>
<text x="210" y="853.06" font-size="11.8" fill="#111" stroke="#111" stroke-width="0.25">CsTPS7</text>
<rect x="271.00" y="844.66" width="56.40" height="9.30" fill="#dc2824" />
<text x="298.00" y="853.36" font-size="10" fill="#111" text-anchor="middle" stroke="#111" stroke-width="0.12">0.04</text>
<rect x="330.10" y="844.66" width="56.40" height="9.30" fill="#90a2b7" />
<text x="357.10" y="853.36" font-size="10" fill="#111" text-anchor="middle" stroke="#111" stroke-width="0.12">0.00</text>
<rect x="389.20" y="844.66" width="56.40" height="9.30" fill="#90a2b7" />
<text x="416.20" y="853.36" font-size="10" fill="#111" text-anchor="middle" stroke="#111" stroke-width="0.12">0.00</text>
<rect x="457.30" y="844.66" width="57.00" height="9.30" fill="#f3eab0" />
<text x="485.20" y="853.36" font-size="10" fill="#111" text-anchor="middle" stroke="#111" stroke-width="0.12">0.00</text>
<rect x="517.00" y="844.66" width="56.00" height="9.30" fill="#f3eab0" />
<text x="544.40" y="853.36" font-size="10" fill="#111" text-anchor="middle" stroke="#111" stroke-width="0.12">0.00</text>
<rect x="575.70" y="844.66" width="56.00" height="9.30" fill="#f3eab0" />
<text x="603.10" y="853.36" font-size="10" fill="#111" text-anchor="middle" stroke="#111" stroke-width="0.12">0.00</text>
<text x="448.8" y="851.41" font-size="8.8" fill="#111" stroke="#111" stroke-width="0.3">–</text>
<text x="643.5" y="850.96" font-size="12.5" fill="#111" stroke="#111" stroke-width="0.3">a</text>
<text x="657.8" y="850.96" font-size="8" fill="#111" stroke="#111" stroke-width="0.3">–</text>
<text x="666.2" y="850.96" font-size="12.5" fill="#111" stroke="#111" stroke-width="0.3">a</text>
<text x="145" y="865.34" font-size="11.8" fill="#111" stroke="#111" stroke-width="0.25">CsTPS10</text>
<text x="199.2" y="862.94" font-size="8.4" fill="#111" stroke="#111" stroke-width="0.3">–</text>
<text x="210" y="865.34" font-size="11.8" fill="#111" stroke="#111" stroke-width="0.25">CsTPS11</text>
<rect x="271.00" y="856.94" width="56.40" height="9.30" fill="#6e89ba" />
<text x="298.00" y="865.64" font-size="10" fill="#111" text-anchor="middle" stroke="#111" stroke-width="0.12">0.04</text>
<rect x="330.10" y="856.94" width="56.40" height="9.30" fill="#c0c5b4" />
<text x="357.10" y="865.64" font-size="10" fill="#111" text-anchor="middle" stroke="#111" stroke-width="0.12">0.06</text>
<rect x="389.20" y="856.94" width="56.40" height="9.30" fill="#dc2824" />
<text x="416.20" y="865.64" font-size="10" fill="#111" text-anchor="middle" stroke="#111" stroke-width="0.12">0.13</text>
<rect x="457.30" y="856.94" width="57.00" height="9.30" fill="#f3eab0" />
<text x="485.20" y="865.64" font-size="10" fill="#111" text-anchor="middle" stroke="#111" stroke-width="0.12">8.48</text>
<rect x="517.00" y="856.94" width="56.00" height="9.30" fill="#df3f35" />
<text x="544.40" y="865.64" font-size="10" fill="#111" text-anchor="middle" stroke="#111" stroke-width="0.12">13.82</text>
<rect x="575.70" y="856.94" width="56.00" height="9.30" fill="#5778bb" />
<text x="603.10" y="865.64" font-size="10" fill="#111" text-anchor="middle" stroke="#111" stroke-width="0.12">3.80</text>
<text x="448.8" y="863.69" font-size="8.8" fill="#111" stroke="#111" stroke-width="0.3">–</text>
<text x="643.5" y="863.24" font-size="12.5" fill="#111" stroke="#111" stroke-width="0.3">b</text>
<text x="657.8" y="863.24" font-size="8" fill="#111" stroke="#111" stroke-width="0.3">–</text>
<text x="666.2" y="863.24" font-size="12.5" fill="#111" stroke="#111" stroke-width="0.3">b</text>
<text x="145" y="877.62" font-size="11.8" fill="#111" stroke="#111" stroke-width="0.25">CsTPS15</text>
<text x="199.2" y="875.22" font-size="8.4" fill="#111" stroke="#111" stroke-width="0.3">–</text>
<text x="210" y="877.62" font-size="11.8" fill="#111" stroke="#111" stroke-width="0.25">CsTPS16</text>
<rect x="271.00" y="869.22" width="56.40" height="9.30" fill="#305cbe" />
<text x="298.00" y="877.92" font-size="10" fill="#111" text-anchor="middle" stroke="#111" stroke-width="0.12">2.93</text>
<rect x="330.10" y="869.22" width="56.40" height="9.30" fill="#efcb9a" />
<text x="357.10" y="877.92" font-size="10" fill="#111" text-anchor="middle" stroke="#111" stroke-width="0.12">40.89</text>
<rect x="389.20" y="869.22" width="56.40" height="9.30" fill="#e46a54" />
<text x="416.20" y="877.92" font-size="10" fill="#111" text-anchor="middle" stroke="#111" stroke-width="0.12">56.87</text>
<rect x="457.30" y="869.22" width="57.00" height="9.30" fill="#adb7b5" />
<text x="485.20" y="877.92" font-size="10" fill="#111" text-anchor="middle" stroke="#111" stroke-width="0.12">1.45</text>
<rect x="517.00" y="869.22" width="56.00" height="9.30" fill="#90a2b7" />
<text x="544.40" y="877.92" font-size="10" fill="#111" text-anchor="middle" stroke="#111" stroke-width="0.12">1.16</text>
<rect x="575.70" y="869.22" width="56.00" height="9.30" fill="#dc2824" />
<text x="603.10" y="877.92" font-size="10" fill="#111" text-anchor="middle" stroke="#111" stroke-width="0.12">3.65</text>
<text x="448.8" y="875.97" font-size="8.8" fill="#111" stroke="#111" stroke-width="0.3">–</text>
<text x="643.5" y="875.52" font-size="12.5" fill="#111" stroke="#111" stroke-width="0.3">b</text>
<text x="657.8" y="875.52" font-size="8" fill="#111" stroke="#111" stroke-width="0.3">–</text>
<text x="666.2" y="875.52" font-size="12.5" fill="#111" stroke="#111" stroke-width="0.3">b</text>
<text x="145" y="889.90" font-size="11.8" fill="#111" stroke="#111" stroke-width="0.25">CsTPS31</text>
<text x="199.2" y="887.50" font-size="8.4" fill="#111" stroke="#111" stroke-width="0.3">–</text>
<text x="210" y="889.90" font-size="11.8" fill="#111" stroke="#111" stroke-width="0.25">CsTPS32</text>
<rect x="271.00" y="881.50" width="56.40" height="9.30" fill="#90a2b7" />
<text x="298.00" y="890.20" font-size="10" fill="#111" text-anchor="middle" stroke="#111" stroke-width="0.12">0.98</text>
<rect x="330.10" y="881.50" width="56.40" height="9.30" fill="#90a2b7" />
<text x="357.10" y="890.20" font-size="10" fill="#111" text-anchor="middle" stroke="#111" stroke-width="0.12">0.41</text>
<rect x="389.20" y="881.50" width="56.40" height="9.30" fill="#dc2824" />
<text x="416.20" y="890.20" font-size="10" fill="#111" text-anchor="middle" stroke="#111" stroke-width="0.12">24.26</text>
<rect x="457.30" y="881.50" width="57.00" height="9.30" fill="#90a2b7" />
<text x="485.20" y="890.20" font-size="10" fill="#111" text-anchor="middle" stroke="#111" stroke-width="0.12">1.33</text>
<rect x="517.00" y="881.50" width="56.00" height="9.30" fill="#90a2b7" />
<text x="544.40" y="890.20" font-size="10" fill="#111" text-anchor="middle" stroke="#111" stroke-width="0.12">0.90</text>
<rect x="575.70" y="881.50" width="56.00" height="9.30" fill="#dc2824" />
<text x="603.10" y="890.20" font-size="10" fill="#111" text-anchor="middle" stroke="#111" stroke-width="0.12">7.24</text>
<text x="448.8" y="888.25" font-size="8.8" fill="#111" stroke="#111" stroke-width="0.3">–</text>
<text x="643.5" y="887.80" font-size="12.5" fill="#111" stroke="#111" stroke-width="0.3">a</text>
<text x="657.8" y="887.80" font-size="8" fill="#111" stroke="#111" stroke-width="0.3">–</text>
<text x="666.2" y="887.80" font-size="12.5" fill="#111" stroke="#111" stroke-width="0.3">a</text>
<text x="145" y="902.18" font-size="11.8" fill="#111" stroke="#111" stroke-width="0.25">CsTPS32</text>
<text x="199.2" y="899.78" font-size="8.4" fill="#111" stroke="#111" stroke-width="0.3">–</text>
<text x="210" y="902.18" font-size="11.8" fill="#111" stroke="#111" stroke-width="0.25">CsTPS33</text>
<rect x="271.00" y="893.78" width="56.40" height="9.30" fill="#90a2b7" />
<text x="298.00" y="902.48" font-size="10" fill="#111" text-anchor="middle" stroke="#111" stroke-width="0.12">1.33</text>
<rect x="330.10" y="893.78" width="56.40" height="9.30" fill="#90a2b7" />
<text x="357.10" y="902.48" font-size="10" fill="#111" text-anchor="middle" stroke="#111" stroke-width="0.12">0.90</text>
<rect x="389.20" y="893.78" width="56.40" height="9.30" fill="#dc2824" />
<text x="416.20" y="902.48" font-size="10" fill="#111" text-anchor="middle" stroke="#111" stroke-width="0.12">7.24</text>
<rect x="457.30" y="893.78" width="57.00" height="9.30" fill="#90a2b7" />
<text x="485.20" y="902.48" font-size="10" fill="#111" text-anchor="middle" stroke="#111" stroke-width="0.12">8.57</text>
<rect x="517.00" y="893.78" width="56.00" height="9.30" fill="#90a2b7" />
<text x="544.40" y="902.48" font-size="10" fill="#111" text-anchor="middle" stroke="#111" stroke-width="0.12">7.23</text>
<rect x="575.70" y="893.78" width="56.00" height="9.30" fill="#dc2824" />
<text x="603.10" y="902.48" font-size="10" fill="#111" text-anchor="middle" stroke="#111" stroke-width="0.12">47.18</text>
<text x="448.8" y="900.53" font-size="8.8" fill="#111" stroke="#111" stroke-width="0.3">–</text>
<text x="643.5" y="900.08" font-size="12.5" fill="#111" stroke="#111" stroke-width="0.3">a</text>
<text x="657.8" y="900.08" font-size="8" fill="#111" stroke="#111" stroke-width="0.3">–</text>
<text x="666.2" y="900.08" font-size="12.5" fill="#111" stroke="#111" stroke-width="0.3">a</text>
<text x="145" y="914.46" font-size="11.8" fill="#111" stroke="#111" stroke-width="0.25">CsTPS33</text>
<text x="199.2" y="912.06" font-size="8.4" fill="#111" stroke="#111" stroke-width="0.3">–</text>
<text x="210" y="914.46" font-size="11.8" fill="#111" stroke="#111" stroke-width="0.25">CsTPS34</text>
<rect x="271.00" y="906.06" width="56.40" height="9.30" fill="#90a2b7" />
<text x="298.00" y="914.76" font-size="10" fill="#111" text-anchor="middle" stroke="#111" stroke-width="0.12">8.57</text>
<rect x="330.10" y="906.06" width="56.40" height="9.30" fill="#90a2b7" />
<text x="357.10" y="914.76" font-size="10" fill="#111" text-anchor="middle" stroke="#111" stroke-width="0.12">7.23</text>
<rect x="389.20" y="906.06" width="56.40" height="9.30" fill="#dc2824" />
<text x="416.20" y="914.76" font-size="10" fill="#111" text-anchor="middle" stroke="#111" stroke-width="0.12">47.18</text>
<rect x="457.30" y="906.06" width="57.00" height="9.30" fill="#90a2b7" />
<text x="485.20" y="914.76" font-size="10" fill="#111" text-anchor="middle" stroke="#111" stroke-width="0.12">0.34</text>
<rect x="517.00" y="906.06" width="56.00" height="9.30" fill="#90a2b7" />
<text x="544.40" y="914.76" font-size="10" fill="#111" text-anchor="middle" stroke="#111" stroke-width="0.12">0.46</text>
<rect x="575.70" y="906.06" width="56.00" height="9.30" fill="#dc2824" />
<text x="603.10" y="914.76" font-size="10" fill="#111" text-anchor="middle" stroke="#111" stroke-width="0.12">2.50</text>
<text x="448.8" y="912.81" font-size="8.8" fill="#111" stroke="#111" stroke-width="0.3">–</text>
<text x="643.5" y="912.36" font-size="12.5" fill="#111" stroke="#111" stroke-width="0.3">a</text>
<text x="657.8" y="912.36" font-size="8" fill="#111" stroke="#111" stroke-width="0.3">–</text>
<text x="666.2" y="912.36" font-size="12.5" fill="#111" stroke="#111" stroke-width="0.3">a</text>
<text x="145" y="926.74" font-size="11.8" fill="#111" stroke="#111" stroke-width="0.25">CsTPS42</text>
<text x="199.2" y="924.34" font-size="8.4" fill="#111" stroke="#111" stroke-width="0.3">–</text>
<text x="210" y="926.74" font-size="11.8" fill="#111" stroke="#111" stroke-width="0.25">CsTPS43</text>
<rect x="271.00" y="918.34" width="56.40" height="9.30" fill="#7e95b8" />
<text x="298.00" y="927.04" font-size="10" fill="#111" text-anchor="middle" stroke="#111" stroke-width="0.12">0.05</text>
<rect x="330.10" y="918.34" width="56.40" height="9.30" fill="#dc2824" />
<text x="357.10" y="927.04" font-size="10" fill="#111" text-anchor="middle" stroke="#111" stroke-width="0.12">7.23</text>
<rect x="389.20" y="918.34" width="56.40" height="9.30" fill="#adb7b5" />
<text x="416.20" y="927.04" font-size="10" fill="#111" text-anchor="middle" stroke="#111" stroke-width="0.12">0.84</text>
<rect x="457.30" y="918.34" width="57.00" height="9.30" fill="#c0c5b4" />
<text x="485.20" y="927.04" font-size="10" fill="#111" text-anchor="middle" stroke="#111" stroke-width="0.12">4.08</text>
<rect x="517.00" y="918.34" width="56.00" height="9.30" fill="#6e89ba" />
<text x="544.40" y="927.04" font-size="10" fill="#111" text-anchor="middle" stroke="#111" stroke-width="0.12">1.64</text>
<rect x="575.70" y="918.34" width="56.00" height="9.30" fill="#dc2824" />
<text x="603.10" y="927.04" font-size="10" fill="#111" text-anchor="middle" stroke="#111" stroke-width="0.12">12.90</text>
<text x="448.8" y="925.09" font-size="8.8" fill="#111" stroke="#111" stroke-width="0.3">–</text>
<text x="643.5" y="924.64" font-size="12.5" fill="#111" stroke="#111" stroke-width="0.3">b</text>
<text x="657.8" y="924.64" font-size="8" fill="#111" stroke="#111" stroke-width="0.3">–</text>
<text x="666.2" y="924.64" font-size="12.5" fill="#111" stroke="#111" stroke-width="0.3">b</text>
<text x="145" y="939.02" font-size="11.8" fill="#111" stroke="#111" stroke-width="0.25">CsTPS46</text>
<text x="199.2" y="936.62" font-size="8.4" fill="#111" stroke="#111" stroke-width="0.3">–</text>
<text x="210" y="939.02" font-size="11.8" fill="#111" stroke="#111" stroke-width="0.25">CsTPS47</text>
<rect x="271.00" y="930.62" width="56.40" height="9.30" fill="#e99975" />
<text x="298.00" y="939.32" font-size="10" fill="#111" text-anchor="middle" stroke="#111" stroke-width="0.12">5.54</text>
<rect x="330.10" y="930.62" width="56.40" height="9.30" fill="#305cbe" />
<text x="357.10" y="939.32" font-size="10" fill="#111" text-anchor="middle" stroke="#111" stroke-width="0.12">0.67</text>
<rect x="389.20" y="930.62" width="56.40" height="9.30" fill="#e78567" />
<text x="416.20" y="939.32" font-size="10" fill="#111" text-anchor="middle" stroke="#111" stroke-width="0.12">6.33</text>
<rect x="457.30" y="930.62" width="57.00" height="9.30" fill="#e99975" />
<text x="485.20" y="939.32" font-size="10" fill="#111" text-anchor="middle" stroke="#111" stroke-width="0.12">2.45</text>
<rect x="517.00" y="930.62" width="56.00" height="9.30" fill="#305cbe" />
<text x="544.40" y="939.32" font-size="10" fill="#111" text-anchor="middle" stroke="#111" stroke-width="0.12">0.47</text>
<rect x="575.70" y="930.62" width="56.00" height="9.30" fill="#e78567" />
<text x="603.10" y="939.32" font-size="10" fill="#111" text-anchor="middle" stroke="#111" stroke-width="0.12">2.79</text>
<text x="448.8" y="937.37" font-size="8.8" fill="#111" stroke="#111" stroke-width="0.3">–</text>
<text x="643.5" y="936.92" font-size="12.5" fill="#111" stroke="#111" stroke-width="0.3">b</text>
<text x="657.8" y="936.92" font-size="8" fill="#111" stroke="#111" stroke-width="0.3">–</text>
<text x="666.2" y="936.92" font-size="12.5" fill="#111" stroke="#111" stroke-width="0.3">b</text>
<text x="145" y="951.30" font-size="11.8" fill="#111" stroke="#111" stroke-width="0.25">CsTPS47</text>
<text x="199.2" y="948.90" font-size="8.4" fill="#111" stroke="#111" stroke-width="0.3">–</text>
<text x="210" y="951.30" font-size="11.8" fill="#111" stroke="#111" stroke-width="0.25">CsTPS48</text>
<rect x="271.00" y="942.90" width="56.40" height="9.30" fill="#e99975" />
<text x="298.00" y="951.60" font-size="10" fill="#111" text-anchor="middle" stroke="#111" stroke-width="0.12">2.45</text>
<rect x="330.10" y="942.90" width="56.40" height="9.30" fill="#305cbe" />
<text x="357.10" y="951.60" font-size="10" fill="#111" text-anchor="middle" stroke="#111" stroke-width="0.12">0.47</text>
<rect x="389.20" y="942.90" width="56.40" height="9.30" fill="#e78567" />
<text x="416.20" y="951.60" font-size="10" fill="#111" text-anchor="middle" stroke="#111" stroke-width="0.12">2.79</text>
<rect x="457.30" y="942.90" width="57.00" height="9.30" fill="#dc2824" />
<text x="485.20" y="951.60" font-size="10" fill="#111" text-anchor="middle" stroke="#111" stroke-width="0.12">2.01</text>
<rect x="517.00" y="942.90" width="56.00" height="9.30" fill="#d4d3b2" />
<text x="544.40" y="951.60" font-size="10" fill="#111" text-anchor="middle" stroke="#111" stroke-width="0.12">1.39</text>
<rect x="575.70" y="942.90" width="56.00" height="9.30" fill="#6e89ba" />
<text x="603.10" y="951.60" font-size="10" fill="#111" text-anchor="middle" stroke="#111" stroke-width="0.12">1.18</text>
<text x="448.8" y="949.65" font-size="8.8" fill="#111" stroke="#111" stroke-width="0.3">–</text>
<text x="643.5" y="949.20" font-size="12.5" fill="#111" stroke="#111" stroke-width="0.3">b</text>
<text x="657.8" y="949.20" font-size="8" fill="#111" stroke="#111" stroke-width="0.3">–</text>
<text x="666.2" y="949.20" font-size="12.5" fill="#111" stroke="#111" stroke-width="0.3">b</text>
<text x="145" y="963.58" font-size="11.8" fill="#111" stroke="#111" stroke-width="0.25">CsTPS13</text>
<text x="199.2" y="961.18" font-size="8.4" fill="#111" stroke="#111" stroke-width="0.3">–</text>
<text x="210" y="963.58" font-size="11.8" fill="#111" stroke="#111" stroke-width="0.25">CsTPS14</text>
<rect x="271.00" y="955.18" width="56.40" height="9.30" fill="#c0c5b4" />
<text x="298.00" y="963.88" font-size="10" fill="#111" text-anchor="middle" stroke="#111" stroke-width="0.12">347.83</text>
<rect x="330.10" y="955.18" width="56.40" height="9.30" fill="#dc2824" />
<text x="357.10" y="963.88" font-size="10" fill="#111" text-anchor="middle" stroke="#111" stroke-width="0.12">1262.99</text>
<rect x="389.20" y="955.18" width="56.40" height="9.30" fill="#6e89ba" />
<text x="416.20" y="963.88" font-size="10" fill="#111" text-anchor="middle" stroke="#111" stroke-width="0.12">0.00</text>
<rect x="457.30" y="955.18" width="57.00" height="9.30" fill="#d4d3b2" />
<text x="485.20" y="963.88" font-size="10" fill="#111" text-anchor="middle" stroke="#111" stroke-width="0.12">3.23</text>
<rect x="517.00" y="955.18" width="56.00" height="9.30" fill="#dc2824" />
<text x="544.40" y="963.88" font-size="10" fill="#111" text-anchor="middle" stroke="#111" stroke-width="0.12">9.88</text>
<rect x="575.70" y="955.18" width="56.00" height="9.30" fill="#6e89ba" />
<text x="603.10" y="963.88" font-size="10" fill="#111" text-anchor="middle" stroke="#111" stroke-width="0.12">0.28</text>
<text x="448.8" y="961.93" font-size="8.8" fill="#111" stroke="#111" stroke-width="0.3">–</text>
<text x="643.5" y="961.48" font-size="12.5" fill="#111" stroke="#111" stroke-width="0.3">b</text>
<text x="657.8" y="961.48" font-size="8" fill="#111" stroke="#111" stroke-width="0.3">–</text>
<text x="666.2" y="961.48" font-size="12.5" fill="#111" stroke="#111" stroke-width="0.3">b</text>
<text x="145" y="975.86" font-size="11.8" fill="#111" stroke="#111" stroke-width="0.25">CsTPS29</text>
<text x="199.2" y="973.46" font-size="8.4" fill="#111" stroke="#111" stroke-width="0.3">–</text>
<text x="210" y="975.86" font-size="11.8" fill="#111" stroke="#111" stroke-width="0.25">CsTPS14</text>
<rect x="271.00" y="967.46" width="56.40" height="9.30" fill="#90a2b7" />
<text x="298.00" y="976.16" font-size="10" fill="#111" text-anchor="middle" stroke="#111" stroke-width="0.12">1.81</text>
<rect x="330.10" y="967.46" width="56.40" height="9.30" fill="#90a2b7" />
<text x="357.10" y="976.16" font-size="10" fill="#111" text-anchor="middle" stroke="#111" stroke-width="0.12">0.24</text>
<rect x="389.20" y="967.46" width="56.40" height="9.30" fill="#dc2824" />
<text x="416.20" y="976.16" font-size="10" fill="#111" text-anchor="middle" stroke="#111" stroke-width="0.12">29.25</text>
<rect x="457.30" y="967.46" width="57.00" height="9.30" fill="#d4d3b2" />
<text x="485.20" y="976.16" font-size="10" fill="#111" text-anchor="middle" stroke="#111" stroke-width="0.12">3.23</text>
<rect x="517.00" y="967.46" width="56.00" height="9.30" fill="#dc2824" />
<text x="544.40" y="976.16" font-size="10" fill="#111" text-anchor="middle" stroke="#111" stroke-width="0.12">9.88</text>
<rect x="575.70" y="967.46" width="56.00" height="9.30" fill="#6e89ba" />
<text x="603.10" y="976.16" font-size="10" fill="#111" text-anchor="middle" stroke="#111" stroke-width="0.12">0.28</text>
<text x="448.8" y="974.21" font-size="8.8" fill="#111" stroke="#111" stroke-width="0.3">–</text>
<text x="643.5" y="973.76" font-size="12.5" fill="#111" stroke="#111" stroke-width="0.3">b</text>
<text x="657.8" y="973.76" font-size="8" fill="#111" stroke="#111" stroke-width="0.3">–</text>
<text x="666.2" y="973.76" font-size="12.5" fill="#111" stroke="#111" stroke-width="0.3">b</text>
<text x="145" y="988.14" font-size="11.8" fill="#111" stroke="#111" stroke-width="0.25">CsTPS30</text>
<text x="199.2" y="985.74" font-size="8.4" fill="#111" stroke="#111" stroke-width="0.3">–</text>
<text x="210" y="988.14" font-size="11.8" fill="#111" stroke="#111" stroke-width="0.25">CsTPS14</text>
<rect x="271.00" y="979.74" width="56.40" height="9.30" fill="#90a2b7" />
<text x="298.00" y="988.44" font-size="10" fill="#111" text-anchor="middle" stroke="#111" stroke-width="0.12">0.04</text>
<rect x="330.10" y="979.74" width="56.40" height="9.30" fill="#90a2b7" />
<text x="357.10" y="988.44" font-size="10" fill="#111" text-anchor="middle" stroke="#111" stroke-width="0.12">0.04</text>
<rect x="389.20" y="979.74" width="56.40" height="9.30" fill="#dc2824" />
<text x="416.20" y="988.44" font-size="10" fill="#111" text-anchor="middle" stroke="#111" stroke-width="0.12">0.09</text>
<rect x="457.30" y="979.74" width="57.00" height="9.30" fill="#d4d3b2" />
<text x="485.20" y="988.44" font-size="10" fill="#111" text-anchor="middle" stroke="#111" stroke-width="0.12">3.23</text>
<rect x="517.00" y="979.74" width="56.00" height="9.30" fill="#dc2824" />
<text x="544.40" y="988.44" font-size="10" fill="#111" text-anchor="middle" stroke="#111" stroke-width="0.12">9.88</text>
<rect x="575.70" y="979.74" width="56.00" height="9.30" fill="#6e89ba" />
<text x="603.10" y="988.44" font-size="10" fill="#111" text-anchor="middle" stroke="#111" stroke-width="0.12">0.28</text>
<text x="448.8" y="986.49" font-size="8.8" fill="#111" stroke="#111" stroke-width="0.3">–</text>
<text x="643.5" y="986.04" font-size="12.5" fill="#111" stroke="#111" stroke-width="0.3">b</text>
<text x="657.8" y="986.04" font-size="8" fill="#111" stroke="#111" stroke-width="0.3">–</text>
<text x="666.2" y="986.04" font-size="12.5" fill="#111" stroke="#111" stroke-width="0.3">b</text>
<text x="145" y="1000.42" font-size="11.8" fill="#111" stroke="#111" stroke-width="0.25">CsTPS12</text>
<text x="199.2" y="998.02" font-size="8.4" fill="#111" stroke="#111" stroke-width="0.3">–</text>
<text x="210" y="1000.42" font-size="11.8" fill="#111" stroke="#111" stroke-width="0.25">CsTPS37</text>
<rect x="271.00" y="992.02" width="56.40" height="9.30" fill="#adb7b5" />
<text x="298.00" y="1000.72" font-size="10" fill="#111" text-anchor="middle" stroke="#111" stroke-width="0.12">0.45</text>
<rect x="330.10" y="992.02" width="56.40" height="9.30" fill="#dc2824" />
<text x="357.10" y="1000.72" font-size="10" fill="#111" text-anchor="middle" stroke="#111" stroke-width="0.12">2.46</text>
<rect x="389.20" y="992.02" width="56.40" height="9.30" fill="#7e95b8" />
<text x="416.20" y="1000.72" font-size="10" fill="#111" text-anchor="middle" stroke="#111" stroke-width="0.12">0.02</text>
<rect x="457.30" y="992.02" width="57.00" height="9.30" fill="#90a2b7" />
<text x="485.20" y="1000.72" font-size="10" fill="#111" text-anchor="middle" stroke="#111" stroke-width="0.12">0.05</text>
<rect x="517.00" y="992.02" width="56.00" height="9.30" fill="#7e95b8" />
<text x="544.40" y="1000.72" font-size="10" fill="#111" text-anchor="middle" stroke="#111" stroke-width="0.12">0.01</text>
<rect x="575.70" y="992.02" width="56.00" height="9.30" fill="#dc2824" />
<text x="603.10" y="1000.72" font-size="10" fill="#111" text-anchor="middle" stroke="#111" stroke-width="0.12">0.82</text>
<text x="448.8" y="998.77" font-size="8.8" fill="#111" stroke="#111" stroke-width="0.3">–</text>
<text x="643.5" y="998.32" font-size="12.5" fill="#111" stroke="#111" stroke-width="0.3">c</text>
<text x="657.8" y="998.32" font-size="8" fill="#111" stroke="#111" stroke-width="0.3">–</text>
<text x="666.2" y="998.32" font-size="12.5" fill="#111" stroke="#111" stroke-width="0.3">e/f</text>
<text x="145" y="1012.70" font-size="11.8" fill="#111" stroke="#111" stroke-width="0.25">CsTPS24</text>
<text x="199.2" y="1010.30" font-size="8.4" fill="#111" stroke="#111" stroke-width="0.3">–</text>
<text x="210" y="1012.70" font-size="11.8" fill="#111" stroke="#111" stroke-width="0.25">CsTPS25</text>
<rect x="271.00" y="1004.30" width="56.40" height="9.30" fill="#90a2b7" />
<text x="298.00" y="1013.00" font-size="10" fill="#111" text-anchor="middle" stroke="#111" stroke-width="0.12">0.26</text>
<rect x="330.10" y="1004.30" width="56.40" height="9.30" fill="#90a2b7" />
<text x="357.10" y="1013.00" font-size="10" fill="#111" text-anchor="middle" stroke="#111" stroke-width="0.12">0.26</text>
<rect x="389.20" y="1004.30" width="56.40" height="9.30" fill="#dc2824" />
<text x="416.20" y="1013.00" font-size="10" fill="#111" text-anchor="middle" stroke="#111" stroke-width="0.12">0.41</text>
<rect x="457.30" y="1004.30" width="57.00" height="9.30" fill="#dc2824" />
<text x="485.20" y="1013.00" font-size="10" fill="#111" text-anchor="middle" stroke="#111" stroke-width="0.12">0.01</text>
<rect x="517.00" y="1004.30" width="56.00" height="9.30" fill="#90a2b7" />
<text x="544.40" y="1013.00" font-size="10" fill="#111" text-anchor="middle" stroke="#111" stroke-width="0.12">0.00</text>
<rect x="575.70" y="1004.30" width="56.00" height="9.30" fill="#90a2b7" />
<text x="603.10" y="1013.00" font-size="10" fill="#111" text-anchor="middle" stroke="#111" stroke-width="0.12">0.00</text>
<text x="448.8" y="1011.05" font-size="8.8" fill="#111" stroke="#111" stroke-width="0.3">–</text>
<text x="643.5" y="1010.60" font-size="12.5" fill="#111" stroke="#111" stroke-width="0.3">e/f</text>
<text x="657.8" y="1010.60" font-size="8" fill="#111" stroke="#111" stroke-width="0.3">–</text>
<text x="666.2" y="1010.60" font-size="12.5" fill="#111" stroke="#111" stroke-width="0.3">e/f</text>
<text x="145" y="1024.98" font-size="11.8" fill="#111" stroke="#111" stroke-width="0.25">CsTPS45</text>
<text x="199.2" y="1022.58" font-size="8.4" fill="#111" stroke="#111" stroke-width="0.3">–</text>
<text x="210" y="1024.98" font-size="11.8" fill="#111" stroke="#111" stroke-width="0.25">CsTPS21</text>
<rect x="271.00" y="1016.58" width="56.40" height="9.30" fill="#e7e1b1" />
<text x="298.00" y="1025.28" font-size="10" fill="#111" text-anchor="middle" stroke="#111" stroke-width="0.12">0.96</text>
<rect x="330.10" y="1016.58" width="56.40" height="9.30" fill="#df3f35" />
<text x="357.10" y="1025.28" font-size="10" fill="#111" text-anchor="middle" stroke="#111" stroke-width="0.12">1.54</text>
<rect x="389.20" y="1016.58" width="56.40" height="9.30" fill="#5778bb" />
<text x="416.20" y="1025.28" font-size="10" fill="#111" text-anchor="middle" stroke="#111" stroke-width="0.12">0.54</text>
<rect x="457.30" y="1016.58" width="57.00" height="9.30" fill="#adb7b5" />
<text x="485.20" y="1025.28" font-size="10" fill="#111" text-anchor="middle" stroke="#111" stroke-width="0.12">10.16</text>
<rect x="517.00" y="1016.58" width="56.00" height="9.30" fill="#dc2824" />
<text x="544.40" y="1025.28" font-size="10" fill="#111" text-anchor="middle" stroke="#111" stroke-width="0.12">40.12</text>
<rect x="575.70" y="1016.58" width="56.00" height="9.30" fill="#7e95b8" />
<text x="603.10" y="1025.28" font-size="10" fill="#111" text-anchor="middle" stroke="#111" stroke-width="0.12">5.02</text>
<text x="448.8" y="1023.33" font-size="8.8" fill="#111" stroke="#111" stroke-width="0.3">–</text>
<text x="643.5" y="1022.88" font-size="12.5" fill="#111" stroke="#111" stroke-width="0.3">g</text>
<text x="657.8" y="1022.88" font-size="8" fill="#111" stroke="#111" stroke-width="0.3">–</text>
<text x="666.2" y="1022.88" font-size="12.5" fill="#111" stroke="#111" stroke-width="0.3">g</text>
<text x="145" y="1037.26" font-size="11.8" fill="#111" stroke="#111" stroke-width="0.25">CsTPS5</text>
<text x="199.2" y="1034.86" font-size="8.4" fill="#111" stroke="#111" stroke-width="0.3">–</text>
<text x="210" y="1037.26" font-size="11.8" fill="#111" stroke="#111" stroke-width="0.25">CsTPS8</text>
<rect x="271.00" y="1028.86" width="56.40" height="9.30" fill="#90a2b7" />
<text x="298.00" y="1037.56" font-size="10" fill="#111" text-anchor="middle" stroke="#111" stroke-width="0.12">0.55</text>
<rect x="330.10" y="1028.86" width="56.40" height="9.30" fill="#90a2b7" />
<text x="357.10" y="1037.56" font-size="10" fill="#111" text-anchor="middle" stroke="#111" stroke-width="0.12">0.34</text>
<rect x="389.20" y="1028.86" width="56.40" height="9.30" fill="#dc2824" />
<text x="416.20" y="1037.56" font-size="10" fill="#111" text-anchor="middle" stroke="#111" stroke-width="0.12">6.12</text>
<rect x="457.30" y="1028.86" width="57.00" height="9.30" fill="#adb7b5" />
<text x="485.20" y="1037.56" font-size="10" fill="#111" text-anchor="middle" stroke="#111" stroke-width="0.12">1.53</text>
<rect x="517.00" y="1028.86" width="56.00" height="9.30" fill="#6e89ba" />
<text x="544.40" y="1037.56" font-size="10" fill="#111" text-anchor="middle" stroke="#111" stroke-width="0.12">0.31</text>
<rect x="575.70" y="1028.86" width="56.00" height="9.30" fill="#dc2824" />
<text x="603.10" y="1037.56" font-size="10" fill="#111" text-anchor="middle" stroke="#111" stroke-width="0.12">6.82</text>
<text x="448.8" y="1035.61" font-size="8.8" fill="#111" stroke="#111" stroke-width="0.3">–</text>
<text x="643.5" y="1035.16" font-size="12.5" fill="#111" stroke="#111" stroke-width="0.3">a</text>
<text x="657.8" y="1035.16" font-size="8" fill="#111" stroke="#111" stroke-width="0.3">–</text>
<text x="666.2" y="1035.16" font-size="12.5" fill="#111" stroke="#111" stroke-width="0.3">a</text>
<text x="145" y="1049.54" font-size="11.8" fill="#111" stroke="#111" stroke-width="0.25">CsTPS25</text>
<text x="199.2" y="1047.14" font-size="8.4" fill="#111" stroke="#111" stroke-width="0.3">–</text>
<text x="210" y="1049.54" font-size="11.8" fill="#111" stroke="#111" stroke-width="0.25">CsTPS36</text>
<rect x="271.00" y="1041.14" width="56.40" height="9.30" fill="#dc2824" />
<text x="298.00" y="1049.84" font-size="10" fill="#111" text-anchor="middle" stroke="#111" stroke-width="0.12">0.01</text>
<rect x="330.10" y="1041.14" width="56.40" height="9.30" fill="#90a2b7" />
<text x="357.10" y="1049.84" font-size="10" fill="#111" text-anchor="middle" stroke="#111" stroke-width="0.12">0.00</text>
<rect x="389.20" y="1041.14" width="56.40" height="9.30" fill="#90a2b7" />
<text x="416.20" y="1049.84" font-size="10" fill="#111" text-anchor="middle" stroke="#111" stroke-width="0.12">0.00</text>
<rect x="457.30" y="1041.14" width="57.00" height="9.30" fill="#efcb9a" />
<text x="485.20" y="1049.84" font-size="10" fill="#111" text-anchor="middle" stroke="#111" stroke-width="0.12">0.42</text>
<rect x="517.00" y="1041.14" width="56.00" height="9.30" fill="#e25746" />
<text x="544.40" y="1049.84" font-size="10" fill="#111" text-anchor="middle" stroke="#111" stroke-width="0.12">0.55</text>
<rect x="575.70" y="1041.14" width="56.00" height="9.30" fill="#4067bd" />
<text x="603.10" y="1049.84" font-size="10" fill="#111" text-anchor="middle" stroke="#111" stroke-width="0.12">0.18</text>
<text x="448.8" y="1047.89" font-size="8.8" fill="#111" stroke="#111" stroke-width="0.3">–</text>
<text x="643.5" y="1047.44" font-size="12.5" fill="#111" stroke="#111" stroke-width="0.3">e/f</text>
<text x="657.8" y="1047.44" font-size="8" fill="#111" stroke="#111" stroke-width="0.3">–</text>
<text x="666.2" y="1047.44" font-size="12.5" fill="#111" stroke="#111" stroke-width="0.3">e/f</text>
<text x="145" y="1061.82" font-size="11.8" fill="#111" stroke="#111" stroke-width="0.25">CsTPS27</text>
<text x="199.2" y="1059.42" font-size="8.4" fill="#111" stroke="#111" stroke-width="0.3">–</text>
<text x="210" y="1061.82" font-size="11.8" fill="#111" stroke="#111" stroke-width="0.25">CsTPS37</text>
<rect x="271.00" y="1053.42" width="56.40" height="9.30" fill="#d4d3b2" />
<text x="298.00" y="1062.12" font-size="10" fill="#111" text-anchor="middle" stroke="#111" stroke-width="0.12">0.02</text>
<rect x="330.10" y="1053.42" width="56.40" height="9.30" fill="#5778bb" />
<text x="357.10" y="1062.12" font-size="10" fill="#111" text-anchor="middle" stroke="#111" stroke-width="0.12">0.01</text>
<rect x="389.20" y="1053.42" width="56.40" height="9.30" fill="#dc2824" />
<text x="416.20" y="1062.12" font-size="10" fill="#111" text-anchor="middle" stroke="#111" stroke-width="0.12">0.04</text>
<rect x="457.30" y="1053.42" width="57.00" height="9.30" fill="#90a2b7" />
<text x="485.20" y="1062.12" font-size="10" fill="#111" text-anchor="middle" stroke="#111" stroke-width="0.12">0.05</text>
<rect x="517.00" y="1053.42" width="56.00" height="9.30" fill="#90a2b7" />
<text x="544.40" y="1062.12" font-size="10" fill="#111" text-anchor="middle" stroke="#111" stroke-width="0.12">0.01</text>
<rect x="575.70" y="1053.42" width="56.00" height="9.30" fill="#dc2824" />
<text x="603.10" y="1062.12" font-size="10" fill="#111" text-anchor="middle" stroke="#111" stroke-width="0.12">0.82</text>
<text x="448.8" y="1060.17" font-size="8.8" fill="#111" stroke="#111" stroke-width="0.3">–</text>
<text x="643.5" y="1059.72" font-size="12.5" fill="#111" stroke="#111" stroke-width="0.3">e/f</text>
<text x="657.8" y="1059.72" font-size="8" fill="#111" stroke="#111" stroke-width="0.3">–</text>
<text x="666.2" y="1059.72" font-size="12.5" fill="#111" stroke="#111" stroke-width="0.3">e/f</text>
<text x="145" y="1074.10" font-size="11.8" fill="#111" stroke="#111" stroke-width="0.25">CsTPS20</text>
<text x="199.2" y="1071.70" font-size="8.4" fill="#111" stroke="#111" stroke-width="0.3">–</text>
<text x="210" y="1074.10" font-size="11.8" fill="#111" stroke="#111" stroke-width="0.25">CsTPS22</text>
<rect x="271.00" y="1065.70" width="56.40" height="9.30" fill="#90a2b7" />
<text x="298.00" y="1074.40" font-size="10" fill="#111" text-anchor="middle" stroke="#111" stroke-width="0.12">0.38</text>
<rect x="330.10" y="1065.70" width="56.40" height="9.30" fill="#90a2b7" />
<text x="357.10" y="1074.40" font-size="10" fill="#111" text-anchor="middle" stroke="#111" stroke-width="0.12">4.73</text>
<rect x="389.20" y="1065.70" width="56.40" height="9.30" fill="#dc2824" />
<text x="416.20" y="1074.40" font-size="10" fill="#111" text-anchor="middle" stroke="#111" stroke-width="0.12">387.41</text>
<rect x="457.30" y="1065.70" width="57.00" height="9.30" fill="#90a2b7" />
<text x="485.20" y="1074.40" font-size="10" fill="#111" text-anchor="middle" stroke="#111" stroke-width="0.12">0.19</text>
<rect x="517.00" y="1065.70" width="56.00" height="9.30" fill="#90a2b7" />
<text x="544.40" y="1074.40" font-size="10" fill="#111" text-anchor="middle" stroke="#111" stroke-width="0.12">1.53</text>
<rect x="575.70" y="1065.70" width="56.00" height="9.30" fill="#dc2824" />
<text x="603.10" y="1074.40" font-size="10" fill="#111" text-anchor="middle" stroke="#111" stroke-width="0.12">274.92</text>
<text x="448.8" y="1072.45" font-size="8.8" fill="#111" stroke="#111" stroke-width="0.3">–</text>
<text x="643.5" y="1072.00" font-size="12.5" fill="#111" stroke="#111" stroke-width="0.3">b</text>
<text x="657.8" y="1072.00" font-size="8" fill="#111" stroke="#111" stroke-width="0.3">–</text>
<text x="666.2" y="1072.00" font-size="12.5" fill="#111" stroke="#111" stroke-width="0.3">b</text>
<text x="145" y="1086.38" font-size="11.8" fill="#111" stroke="#111" stroke-width="0.25">CsTPS21</text>
<text x="199.2" y="1083.98" font-size="8.4" fill="#111" stroke="#111" stroke-width="0.3">–</text>
<text x="210" y="1086.38" font-size="11.8" fill="#111" stroke="#111" stroke-width="0.25">CsTPS23</text>
<rect x="271.00" y="1077.98" width="56.40" height="9.30" fill="#adb7b5" />
<text x="298.00" y="1086.68" font-size="10" fill="#111" text-anchor="middle" stroke="#111" stroke-width="0.12">10.16</text>
<rect x="330.10" y="1077.98" width="56.40" height="9.30" fill="#dc2824" />
<text x="357.10" y="1086.68" font-size="10" fill="#111" text-anchor="middle" stroke="#111" stroke-width="0.12">40.12</text>
<rect x="389.20" y="1077.98" width="56.40" height="9.30" fill="#7e95b8" />
<text x="416.20" y="1086.68" font-size="10" fill="#111" text-anchor="middle" stroke="#111" stroke-width="0.12">5.02</text>
<rect x="457.30" y="1077.98" width="57.00" height="9.30" fill="#efcb9a" />
<text x="485.20" y="1086.68" font-size="10" fill="#111" text-anchor="middle" stroke="#111" stroke-width="0.12">3.34</text>
<rect x="517.00" y="1077.98" width="56.00" height="9.30" fill="#e25746" />
<text x="544.40" y="1086.68" font-size="10" fill="#111" text-anchor="middle" stroke="#111" stroke-width="0.12">5.13</text>
<rect x="575.70" y="1077.98" width="56.00" height="9.30" fill="#305cbe" />
<text x="603.10" y="1086.68" font-size="10" fill="#111" text-anchor="middle" stroke="#111" stroke-width="0.12">0.27</text>
<text x="448.8" y="1084.73" font-size="8.8" fill="#111" stroke="#111" stroke-width="0.3">–</text>
<text x="643.5" y="1084.28" font-size="12.5" fill="#111" stroke="#111" stroke-width="0.3">g</text>
<text x="657.8" y="1084.28" font-size="8" fill="#111" stroke="#111" stroke-width="0.3">–</text>
<text x="666.2" y="1084.28" font-size="12.5" fill="#111" stroke="#111" stroke-width="0.3">g</text>
<text transform="translate(300.6,1101.2) rotate(-45)" text-anchor="end" font-size="11.9" fill="#111" stroke="#111" stroke-width="0.2" y="4">Flower_bud</text>
<text transform="translate(359.7,1101.2) rotate(-45)" text-anchor="end" font-size="11.9" fill="#111" stroke="#111" stroke-width="0.2" y="4">Flower_blooming</text>
<text transform="translate(420.1,1097.9) rotate(-45)" text-anchor="end" font-size="11.9" fill="#111" stroke="#111" stroke-width="0.2" y="4">Leaf</text>
<text transform="translate(487.2,1101.2) rotate(-45)" text-anchor="end" font-size="11.9" fill="#111" stroke="#111" stroke-width="0.2" y="4">Flower_bud</text>
<text transform="translate(546.4,1101.2) rotate(-45)" text-anchor="end" font-size="11.9" fill="#111" stroke="#111" stroke-width="0.2" y="4">Flower_blooming</text>
<text transform="translate(606.4,1097.9) rotate(-45)" text-anchor="end" font-size="11.9" fill="#111" stroke="#111" stroke-width="0.2" y="4">Leaf</text>
</svg>
</body></html>
